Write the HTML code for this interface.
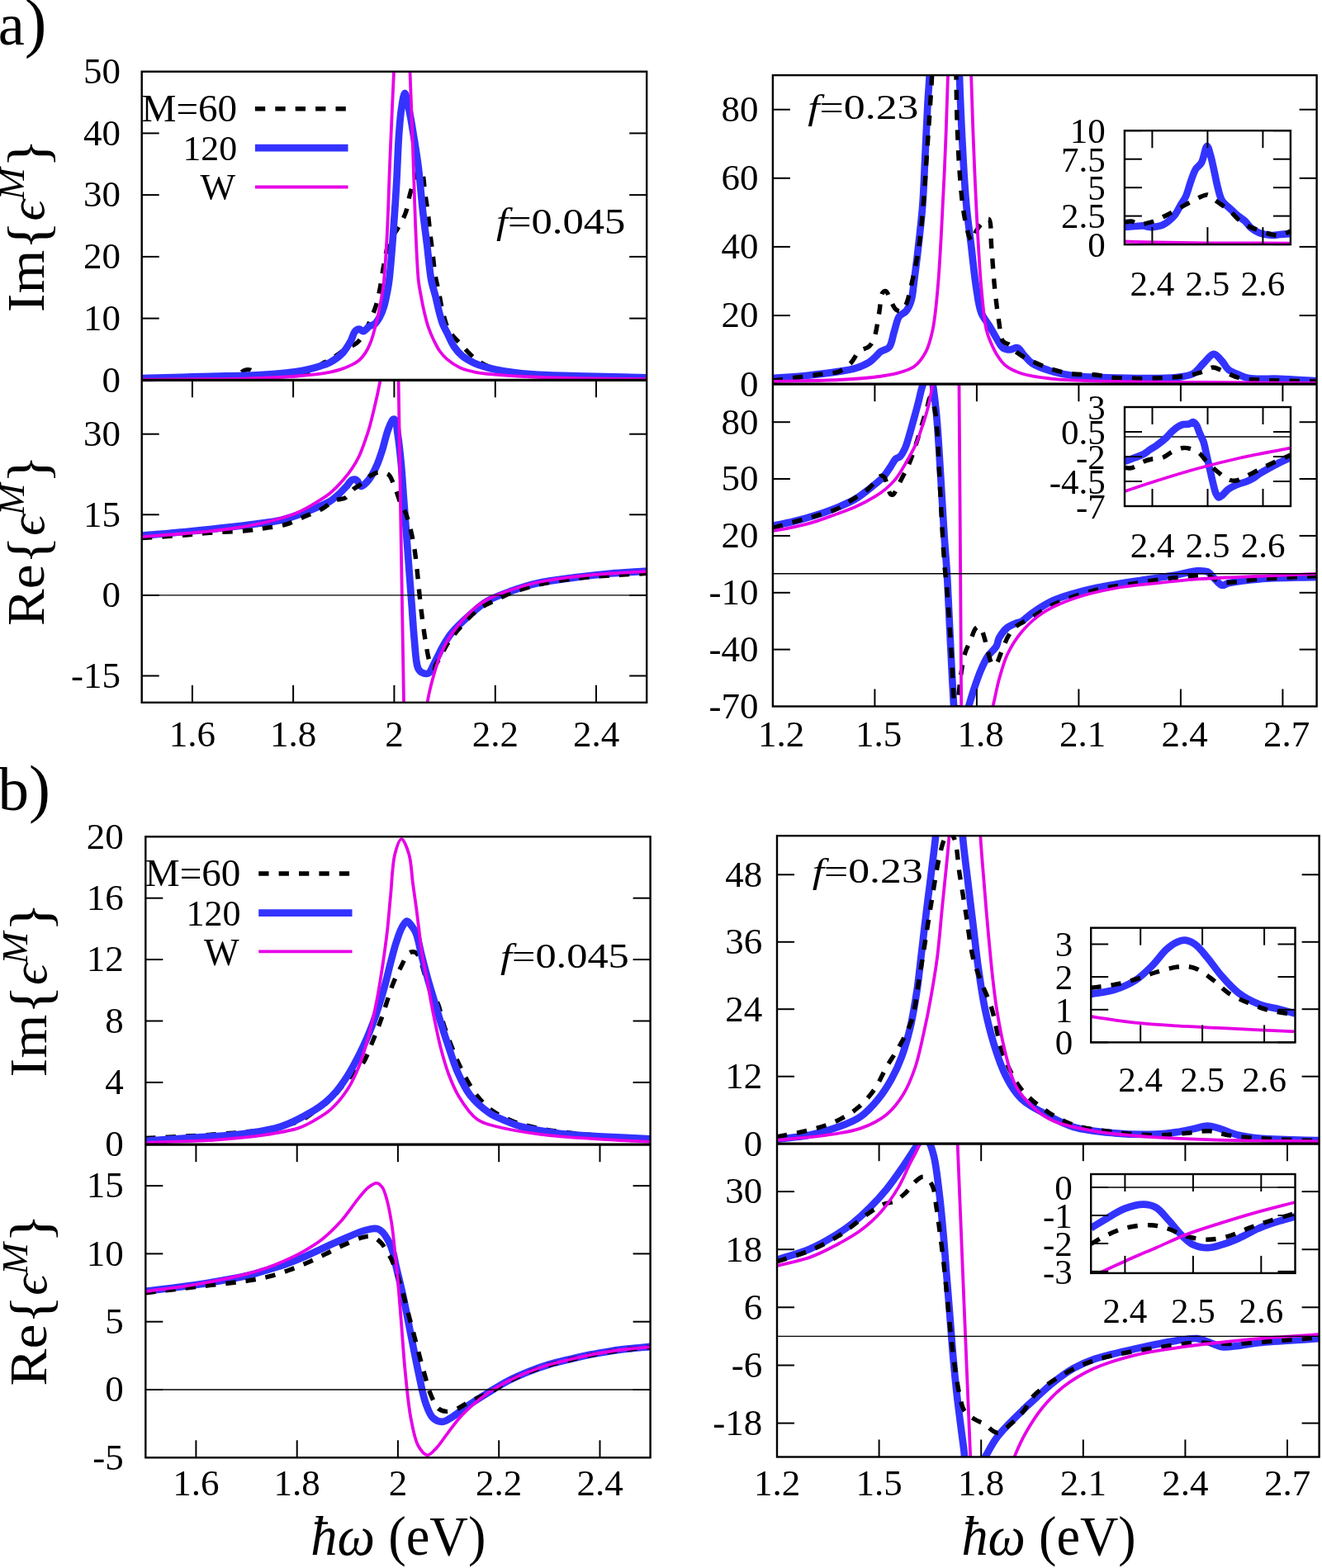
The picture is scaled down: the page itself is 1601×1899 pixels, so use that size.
<!DOCTYPE html>
<html><head><meta charset="utf-8"><title>Dielectric function spectra</title>
<style>html,body{margin:0;padding:0;background:#fff;}svg{display:block;}</style>
</head><body>
<svg width="1601" height="1899" viewBox="0 0 1601 1899" font-family="'Liberation Serif', 'DejaVu Serif', serif">
<defs><clipPath id="c1"><rect x="171.7" y="460.3" width="611.5" height="390.5"/></clipPath><clipPath id="c2"><rect x="935.9" y="465.2" width="658.7" height="390.3"/></clipPath><clipPath id="c3"><rect x="176.3" y="1386.2" width="611.3" height="379.1"/></clipPath><clipPath id="c4"><rect x="941" y="1385.2" width="656.6" height="379.3"/></clipPath><clipPath id="c5"><rect x="171.7" y="86.7" width="611.5" height="378.1"/></clipPath><clipPath id="c6"><rect x="935.9" y="91.1" width="658.7" height="378.6"/></clipPath><clipPath id="c7"><rect x="176.3" y="1013.3" width="611.3" height="377.4"/></clipPath><clipPath id="c8"><rect x="941" y="1012.2" width="656.6" height="377.5"/></clipPath><clipPath id="c9"><rect x="1361.9" y="158.2" width="201" height="137.9"/></clipPath><clipPath id="c10"><rect x="1362" y="493" width="201" height="120"/></clipPath><clipPath id="c11"><rect x="1321.2" y="1123.7" width="247.3" height="138.7"/></clipPath><clipPath id="c12"><rect x="1321.2" y="1422" width="247.3" height="119.9"/></clipPath></defs>
<rect width="1601" height="1899" fill="#fff"/>
<g clip-path="url(#c1)" fill="none" stroke-linejoin="round">
<path d="M172 648.5C189.7 647 207.3 645.7 225 644C242.8 642.3 263.1 640.2 278.6 638.4C290.5 637 299.7 635.9 310 634.5C320.1 633.1 330.9 632 340 629.9C347.9 628.1 354.5 625.9 361.6 623.4C368.9 620.9 376.6 617.7 383.2 614.8C389 612.3 394.7 610.1 399.4 607.2C403.5 604.6 406.9 601.6 410.2 598.6C413.3 595.8 416.1 592.8 418.8 589.9C421.5 587.1 423.8 582.5 426.4 581.3C428.2 580.5 430.2 580.5 431.8 581.3C433.9 582.4 435.1 588.5 437.2 588.9C439.1 589.2 441.6 586.4 443.6 584.5C446 582.2 448.1 579.2 450.1 575.9C452.4 572.1 454.6 567.8 456.6 563C459 557.5 461 551.1 463.1 544.6C465.4 537.5 467.1 528.5 469.5 521.9C471.5 516.6 473.9 508.9 476 507.9C476.8 507.5 477.8 507.7 478.5 508.5C480.3 510.4 480.6 518.7 481.6 525.4C483.1 535.2 484.6 549 485.8 561.6C487.1 575.2 487.9 590.1 489 604.3C490.1 618.5 491.1 632.7 492.2 646.9C493.3 661.1 494.3 675.3 495.4 689.5C496.5 703.7 497.5 718 498.6 732.2C499.7 746.4 500.5 761.4 501.8 774.8C503 786.8 503.4 802.6 506.1 808.9C507.3 811.7 508.4 813.2 510.4 814.3C512.6 815.5 516.5 816.5 518.9 815.3C521.7 813.9 523 808.9 525.3 804.7C528.5 798.9 532.3 789.9 536 783.4C539.4 777.5 541.9 772.7 546.6 767C552.8 759.4 563.4 749.7 571.2 742.8C577.7 737.1 582.8 732.3 590 728C598.2 723.2 608.3 719.7 618.1 716.2C628.3 712.5 638.3 709.2 650 706.5C663.9 703.3 681 701.4 696.2 699.4C711 697.4 725.4 695.8 740 694.5C754.4 693.2 768.8 692.6 783.2 691.6" stroke="#3333ff" stroke-width="8.7"/>
<path d="M172 651.5C189.7 650.3 209.5 649.2 225 648C237.1 647 245.8 645.9 257.3 645C270.5 644 288.1 643.7 299.9 642.5C308.3 641.7 314 640.7 321.3 639.5C329.1 638.3 337.5 637.6 345.4 635.3C353.5 633 361.4 628.9 369.1 625.6C376.5 622.4 384.4 619.4 390.7 615.8C396.1 612.8 400.9 607.8 405 606C407.7 604.8 410 605 412.3 604.5C414.3 604 416 604.2 418 603C421.2 601.1 425.3 594.8 428.5 592.1C430.8 590.2 432.5 589.7 435 587.8C438.9 584.9 444.7 578.6 449 575.9C452.2 573.9 455.1 572.5 458 572C460.5 571.6 463 572.2 465.2 572.7C467.2 573.2 468.9 573.3 470.6 574.8C473.5 577.4 475.9 584.5 478.2 589.9C480.7 595.7 482.4 602.9 484.8 608.5C486.8 613.2 489.3 616.6 491.2 621.3C493.3 626.5 494.9 632.1 496.5 638.4C498.5 646 500.4 655.4 501.8 664C503.2 672.5 504 680.5 505 689.5C506.1 699.6 507.1 711.2 508.2 721.5C509.2 731.1 510.2 739.8 511.4 749.2C512.7 759 514.1 770 515.7 779.1C517 786.8 518.2 795 520 800.4C521.2 804 522.5 808.9 524.2 809C526.2 809.2 529.1 802.5 531.7 798.3C535.1 792.9 538.2 785.3 542.3 779.1C546.6 772.5 551.6 766.3 557.3 759.9C563.6 752.8 571.1 744.2 578.6 738.6C585.4 733.5 593.1 730.5 600 727C606.2 723.9 611.1 721.3 618.1 718.6C627.1 715.1 638.3 711.3 650 708.5C663.9 705.1 681 702.5 696.2 700.6C711 698.7 725.4 698 740 697C754.4 696 768.8 695.3 783.2 694.4" stroke="#000" stroke-width="5.4" stroke-dasharray="12.3 12.1"/>
<path d="M172 650.1C189.7 648.7 207.3 647.6 225 646C242.8 644.4 263.1 642.6 278.6 640.5C290.5 638.9 299.7 637.2 310 635C320.1 632.9 330.9 630.4 340 627.7C347.9 625.4 354.5 623.3 361.6 620.2C368.9 616.9 376.6 612.3 383.2 608.3C389.1 604.7 394.2 601.8 399.4 597.5C405 592.9 410.9 586.7 415.6 581.3C419.7 576.6 423.2 572.2 426.4 567.3C429.6 562.5 432.4 557.7 435 552.2C437.8 546.2 440.3 539 442.5 532.7C444.6 526.8 446.4 521.2 448 515.4C449.6 509.7 450.9 504 452.3 498.2C453.8 492.2 455.2 485.9 456.6 479.8C457.9 473.7 459.3 466.9 460.4 461.5C461.2 457.2 461.8 453.8 462.5 450" stroke="#e600e6" stroke-width="3.8"/>
<path d="M482.4 450C482.5 453.8 482.5 454.9 482.6 461.4C483.2 499.3 488.2 813 489 849.5C489.1 855.5 489.2 856.5 489.3 860" stroke="#e600e6" stroke-width="3.8"/>
<path d="M517 860C517.3 856.5 517.1 853.9 517.8 849.5C519 841.7 522.5 827.5 525.3 817.5C527.9 808.4 530.2 800.1 533.8 791.9C537.3 783.7 541.1 776.3 546.6 768.4C553.1 759 563.1 747.1 571.2 739.6C577.5 733.8 582.8 730 590 726C598.2 721.5 608.3 718.1 618.1 714.7C628.3 711.2 638.3 708.1 650 705.5C663.9 702.4 681 700.1 696.2 698.3C711 696.5 725.4 695.6 740 694.5C754.4 693.5 768.8 692.8 783.2 692" stroke="#e600e6" stroke-width="3.8"/>
</g>
<g clip-path="url(#c2)" fill="none" stroke-linejoin="round">
<path d="M935.9 636.8C943.9 635.1 951.9 633.7 960 631.8C968.3 629.8 976.7 627.5 985 624.9C993.4 622.3 1001.7 619.5 1010 616.2C1018.4 612.8 1028.3 608.7 1035 604.9C1040 602 1043.3 599.3 1047.4 596.2C1051.6 593 1056.1 589.5 1060 586.2C1063.5 583.2 1066.9 580.8 1069.9 577.4C1073.2 573.8 1076 568.8 1078.7 564.9C1081 561.6 1082.7 557.5 1084.9 555.5C1086.5 554.1 1088.3 554.5 1089.9 553C1092.2 550.9 1094.4 546.4 1096.2 542.5C1098.2 538 1099.4 533 1101.1 527.5C1103.1 520.8 1105.4 512.2 1107.4 505C1109.2 498.5 1110.9 492.2 1112.4 486.2C1113.8 480.7 1115 474.5 1116.2 470.5C1116.9 467.9 1117.7 466.5 1118.3 464.2C1119 461.4 1119.4 458.1 1120 455" stroke="#3333ff" stroke-width="8.7"/>
<path d="M1128 455C1128.6 458.8 1129.2 461.5 1129.9 466.3C1131.1 474.9 1132.9 489.7 1134.1 502.1C1135.4 515.6 1136.2 529.5 1137.2 544.3C1138.3 560.9 1139.3 579.4 1140.4 596.9C1141.5 614.5 1142.5 633 1143.6 649.6C1144.6 664.4 1145.7 676.2 1146.7 691.7C1147.9 710.6 1148.8 733.8 1149.9 754.9C1150.9 776 1152 799.7 1153 818.1C1153.7 832.3 1154.7 847.4 1155.1 856C1155.3 860.4 1155.4 862.7 1155.5 866" stroke="#3333ff" stroke-width="8.7"/>
<path d="M1170 866C1171 862.7 1171.8 859.9 1173 856C1174.7 850.3 1177 842.1 1179.4 835C1181.9 827.4 1184.8 818.8 1187.8 811.8C1190.4 805.7 1192.9 800 1196.2 795C1199.3 790.3 1204.5 786.5 1206.8 782.3C1208.6 779 1208.2 775.8 1210 772.5C1212.2 768.4 1216.3 763 1220 760C1223.1 757.5 1226.9 756.3 1230 755C1232.6 753.9 1234.8 754 1237.5 752.5C1241.3 750.4 1245 746 1250 742.5C1256.8 737.8 1266.5 731.5 1275 727.5C1283.1 723.7 1291.6 721.3 1300 718.8C1308.3 716.3 1315.2 714.6 1325 712.5C1338.8 709.6 1358.3 706.5 1375 703.8C1391.7 701.1 1411.2 698.7 1425 696.3C1434.8 694.6 1443.1 691.7 1450 691.3C1454.9 691.1 1459.1 690.9 1462.5 692.5C1465.6 694 1467.3 697.4 1470 700C1473.1 702.9 1476.7 708.1 1480 708.8C1482.5 709.3 1484 707.1 1487.5 706.3C1495.2 704.5 1510.5 702.5 1525 701.3C1544.6 699.6 1571.4 699.6 1594.6 698.8" stroke="#3333ff" stroke-width="8.7"/>
<path d="M935.9 639.3C945.6 636.6 955.9 633.7 965 631.2C973 629 979.9 627.2 987.5 624.9C995.3 622.6 1003.7 620.7 1011.2 617.4C1018.7 614.1 1025.6 609.2 1032.4 604.9C1038.9 600.8 1046 596.8 1051.2 592.4C1055.5 588.7 1059 583.9 1062 581C1064.1 579 1065.7 576.4 1067.4 576.2C1068.7 576 1070 576.8 1071 578C1072.8 580.1 1073.6 586.3 1075 590C1076.2 593.2 1077.2 597.6 1078.7 598.7C1079.5 599.3 1080.5 599.5 1081.5 599C1084 597.7 1087 589.3 1089.9 583.7C1093.4 577 1097.8 569 1101.1 561.2C1104.5 553.2 1107.2 544.6 1109.9 536.2C1112.6 527.9 1115.1 518.6 1117.4 511.2C1119.2 505.2 1120.8 500.2 1122.4 495C1123.9 490.2 1125.1 481.1 1126.7 481.1C1128.3 481.1 1130.7 490.1 1132 495.8C1133.8 503.4 1134.3 513.1 1135.1 523.2C1136.1 535.7 1136.4 549.8 1137.2 565.3C1138.2 584.2 1139.3 608.4 1140.4 628.5C1141.4 646.9 1142.4 665.9 1143.6 681.2C1144.5 693.1 1145.7 701.5 1146.7 712.8C1147.8 725.8 1148.9 740.1 1149.9 754.9C1151 771.5 1152.1 791 1153 807.6C1153.8 822.4 1154.5 838.9 1155.1 849.7C1155.5 856.4 1155.7 860.6 1156 866" stroke="#000" stroke-width="5.4" stroke-dasharray="12.3 12.1"/>
<path d="M1159.5 866C1159.8 860.6 1159.9 856 1160.4 849.7C1161.1 840.9 1162.1 828.2 1163.6 818.1C1165 808.6 1166.5 798.3 1168.8 790.7C1170.6 784.9 1173.1 780.9 1175.2 776C1177.3 771.1 1178.9 763.8 1181.5 761.2C1183.1 759.7 1185.2 758.5 1186.7 759.1C1189 760.1 1190.5 767.2 1192 771.8C1193.7 776.9 1194.5 783 1196.2 788.6C1198 794.3 1199.9 804.5 1202.5 805.5C1203.8 806 1205.5 804.8 1206.8 803.4C1209.2 800.8 1210.8 793.8 1213.1 788.6C1215.7 782.7 1218.3 774.9 1221.5 769.7C1224.1 765.5 1226.1 762.4 1229.9 759.1C1234.9 754.8 1243 751.6 1250 747.5C1257.9 742.9 1264.9 737.2 1275 732.5C1288.5 726.1 1308.2 719.4 1325 715C1341.5 710.7 1358.3 708.9 1375 706.3C1391.6 703.7 1409.5 701 1425 699.5C1438.4 698.2 1452.5 695.7 1462.5 697.5C1469.6 698.8 1472.6 703.8 1480 705C1491.4 706.8 1508.4 702.4 1525 701.3C1545.7 699.9 1571.4 698.8 1594.6 697.5" stroke="#000" stroke-width="5.4" stroke-dasharray="12.3 12.1"/>
<path d="M935.9 643C943.9 641.5 951.9 640.3 960 638.6C968.3 636.8 976.7 634.9 985 632.4C993.4 629.9 1001.7 626.7 1010 623.7C1018.4 620.7 1026.8 618 1035 614.3C1043.5 610.5 1053.2 605.4 1060 601.2C1065 598.2 1068.4 595.8 1072.4 592.4C1076.7 588.8 1081 584.8 1084.9 579.9C1089.4 574.2 1093.4 567 1097.4 560C1101.7 552.5 1106.7 543.6 1109.9 536.2C1112.6 530 1114.1 524.7 1116.1 518.7C1118.2 512.3 1120.7 504.9 1122.4 498.7C1123.9 493.4 1125 488.8 1126.1 483.7C1127.2 478.5 1128.2 473 1129 468C1129.8 463.5 1130.3 459.3 1131 455" stroke="#e600e6" stroke-width="3.8"/>
<path d="M1161.3 455C1161.4 458.8 1161.4 459.9 1161.5 466.3C1162 504.1 1163.9 820.1 1164.2 856C1164.2 861.7 1164.3 862.7 1164.3 866" stroke="#e600e6" stroke-width="3.8"/>
<path d="M1199 866C1200.2 862.3 1201.2 859.7 1202.5 855C1204.7 847.1 1207 833 1210 822.5C1212.9 812.2 1215.5 802 1220 792.5C1224.6 782.8 1230.5 773.3 1237.5 765C1244.6 756.6 1252.8 748.9 1262.5 742.5C1273.3 735.4 1286.3 729.8 1300 725C1315.2 719.6 1333.2 715.6 1350 712.5C1366.6 709.4 1383.3 708.2 1400 706.3C1416.7 704.4 1433.3 702.6 1450 701.3C1466.7 700.1 1480.7 699.7 1500 698.8C1526.5 697.6 1563.1 696.3 1594.6 695" stroke="#e600e6" stroke-width="3.8"/>
</g>
<g clip-path="url(#c3)" fill="none" stroke-linejoin="round">
<path d="M176.3 1563.8C196.7 1561.2 217.1 1559.1 237.6 1556C258.3 1552.8 284.5 1548.4 300 1544.8C309.4 1542.6 315 1540.5 322.5 1538.3C330 1536 337.5 1533.9 345 1531.3C352.5 1528.7 360 1525.7 367.5 1522.5C375 1519.3 382.5 1515.6 390 1512.2C397.5 1508.8 404.9 1505.4 412.4 1502.1C419.9 1498.8 427.9 1494.9 434.9 1492.5C440.9 1490.4 447.5 1488.4 451.8 1488C454.3 1487.8 456.1 1487.8 458 1488.5C459.9 1489.2 461.3 1490.3 463 1492C465.6 1494.6 468.7 1499.6 470.9 1503.8C473.1 1508 474.6 1512.3 476 1517C477.5 1522 478 1526.5 479.5 1532.9C481.8 1542.9 485.6 1557.8 488.5 1571.1C491.6 1585.5 494.5 1601.1 497.5 1616.1C500.5 1631.1 503.4 1646.7 506.5 1661.1C509.4 1674.4 511.8 1689.1 515.5 1699.3C518.1 1706.6 520.4 1713.6 524.4 1717.3C527.5 1720.2 531.8 1722 535.7 1721.8C540 1721.6 544.7 1717.9 549.2 1715.1C554.4 1712 559 1707.7 564.9 1703.6C572.2 1698.6 581.6 1692.6 590 1687.4C598.3 1682.3 606.5 1676.9 615 1672.5C623.2 1668.2 631.6 1664.6 640 1661.2C648.3 1657.9 656.6 1655 665 1652.5C673.3 1650 681.7 1648.2 690 1646.2C698.3 1644.2 706.6 1642.3 715 1640.6C723.3 1638.9 731.7 1637.5 740 1636.2C748.3 1635 756.9 1634 765 1633.1C772.7 1632.2 780.1 1631.6 787.6 1630.8" stroke="#3333ff" stroke-width="8.7"/>
<path d="M176.3 1565.7C196.7 1563.3 216.7 1561 237.6 1558.5C259.4 1555.9 288.2 1553.1 304.5 1550.4C314 1548.8 319.5 1547.7 327 1545.7C334.7 1543.7 342.4 1541.1 350 1538.3C357.6 1535.5 365.1 1532.4 372.5 1529.1C379.8 1525.9 386.7 1522.4 393.9 1518.9C401.3 1515.3 408.8 1511.1 416.4 1507.7C423.8 1504.4 432.6 1500.3 438.9 1498.7C443.2 1497.6 446.4 1496.6 450 1497.5C453.9 1498.4 458.2 1501.9 461.3 1504.9C464.2 1507.7 466 1511.5 468.2 1514.9C470.4 1518.4 472.7 1522.4 474.3 1525.7C475.6 1528.3 476 1529.7 477.2 1532.9C479.4 1539 483.3 1550.4 486.2 1559.9C489.4 1570.5 492.2 1582.4 495.2 1593.6C498.2 1604.9 501.2 1616.1 504.2 1627.4C507.2 1638.6 510.1 1650.3 513.2 1661.1C516.1 1671.2 518.7 1682.2 522.2 1690.3C524.9 1696.5 527.5 1703 531.2 1706.1C533.9 1708.3 536.9 1709.2 540.2 1709.4C544.2 1709.6 549.2 1707.9 553.7 1706.1C558.9 1704 563.7 1699.8 569.4 1697C575.7 1693.8 582.9 1691.8 590 1688.2C598.1 1684.1 606.5 1677.7 615 1673.3C623.2 1669 631.6 1665.4 640 1662C648.3 1658.7 656.6 1655.8 665 1653.3C673.3 1650.8 681.7 1649 690 1647C698.3 1645 706.6 1643.1 715 1641.4C723.3 1639.7 731.7 1638.3 740 1637C748.3 1635.8 756.9 1634.8 765 1633.9C772.7 1633 780.1 1632.4 787.6 1631.6" stroke="#000" stroke-width="5.4" stroke-dasharray="12.3 12.1"/>
<path d="M176.3 1564.2C196.7 1561.3 217.1 1559.1 237.6 1555.5C258.4 1551.9 284.5 1546.5 300 1542.6C309.4 1540.2 315.1 1538.4 322.5 1535.8C330.1 1533.2 337.6 1530.1 345 1526.8C352.6 1523.4 360.1 1519.8 367.5 1515.6C375.1 1511.2 382.8 1506.7 390 1501C397.8 1494.9 405.2 1487.6 412.4 1479.6C420.2 1470.9 428.5 1458 434.9 1450.4C439.2 1445.3 442.3 1441 446.2 1438C449.4 1435.5 453.4 1432.6 456.3 1432.9C458.8 1433.1 461.1 1435.5 463 1438C465.6 1441.6 467 1447.6 468.7 1453.7C470.9 1461.6 472.7 1471.6 474.3 1481.8C476.2 1493.8 477.5 1509.2 478.8 1521.2C479.9 1531.2 480.7 1537.9 481.7 1548.7C483.1 1564.1 484.7 1586.2 486.2 1604.9C487.7 1623.6 488.8 1642.4 490.7 1661.1C492.6 1679.9 494.4 1701 497.5 1717.3C500 1730.1 502 1743.1 506.5 1751C509.5 1756.3 513.9 1762.1 517.7 1762.3C521.3 1762.5 525.2 1757.1 528.9 1753.3C533.5 1748.5 537.5 1741.6 542.4 1735.3C547.9 1728.2 553.2 1720.2 560.4 1712.8C568.7 1704.3 580.3 1694.7 590 1687.7C598.4 1681.7 606.5 1677.2 615 1672.8C623.2 1668.5 631.6 1664.9 640 1661.5C648.3 1658.2 656.6 1655.3 665 1652.8C673.3 1650.3 681.7 1648.5 690 1646.5C698.3 1644.5 706.6 1642.6 715 1640.9C723.3 1639.2 731.7 1637.8 740 1636.5C748.3 1635.3 756.9 1634.3 765 1633.4C772.7 1632.5 780.1 1631.9 787.6 1631.1" stroke="#e600e6" stroke-width="3.8"/>
</g>
<g clip-path="url(#c4)" fill="none" stroke-linejoin="round">
<path d="M941 1525.7C954.4 1521.3 968.8 1517.7 981.1 1512.4C992.3 1507.6 1002.8 1501.5 1011.9 1495.9C1019.6 1491.2 1025.7 1486.9 1032.4 1481.6C1039.4 1476 1046.2 1469.8 1052.9 1463.1C1059.9 1456.1 1066.9 1448.6 1073.5 1440.5C1080.6 1431.8 1087.9 1421.2 1094 1412.3C1099.3 1404.6 1105.1 1395.4 1108.4 1390.3C1110.2 1387.6 1110.9 1386.1 1112.5 1384.1C1114.1 1382 1116 1378.2 1118 1378C1120.1 1377.8 1122.9 1380.4 1124.8 1383C1127.6 1386.8 1129.2 1393.3 1131 1400.5C1133.7 1411.2 1135.3 1427.1 1137.1 1441.6C1139.1 1457.7 1140.8 1475.8 1142.3 1492.9C1143.9 1510 1145 1527.2 1146.4 1544.3C1147.8 1561.4 1149.1 1578.5 1150.5 1595.6C1151.9 1612.7 1153.1 1630.8 1154.6 1646.9C1155.9 1661.4 1157.2 1674.3 1158.7 1688C1160.2 1701.7 1162.2 1716.2 1163.8 1729.1C1165.2 1740.6 1167.2 1753.4 1167.9 1761.9C1168.4 1767.2 1168.3 1770.6 1168.5 1775" stroke="#3333ff" stroke-width="8.7"/>
<path d="M1188 1775C1190.2 1770.6 1192 1766.7 1194.6 1761.9C1198 1755.8 1202.3 1747.7 1206.9 1741.4C1211.3 1735.4 1216.1 1730.5 1221.3 1725C1227 1718.9 1234.7 1711.6 1240 1706.5C1243.8 1702.9 1245.9 1701 1250 1697.3C1256.4 1691.4 1266.5 1681.6 1275 1674.8C1283.1 1668.3 1291.4 1662.2 1299.9 1657.3C1308 1652.7 1315 1649.5 1324.9 1646.1C1338.5 1641.4 1358.2 1637.4 1374.9 1633.6C1391.5 1629.9 1411.1 1625.7 1424.9 1623.6C1434.6 1622.1 1443 1620.5 1449.8 1621.1C1454.7 1621.6 1457.8 1623.3 1462.3 1624.8C1467.7 1626.6 1473.7 1630.2 1479.8 1631.1C1486.2 1632 1492.8 1630.5 1499.8 1629.8C1507.7 1629 1514.3 1627.2 1524.8 1626.1C1542.7 1624.2 1573.3 1622.8 1597.6 1621.1" stroke="#3333ff" stroke-width="8.7"/>
<path d="M941 1527.8C954.4 1523.3 968.8 1519.5 981.1 1514.4C992.2 1509.8 1002.9 1504.4 1011.9 1499C1019.6 1494.4 1025.5 1489.7 1032.4 1484.6C1039.8 1479.2 1047.9 1471.9 1055 1467.2C1060.8 1463.4 1066.2 1460.1 1071.4 1458C1075.7 1456.3 1079.8 1456.8 1083.7 1454.9C1088.1 1452.8 1092 1449 1096.1 1445.2C1100.9 1440.7 1106 1432.7 1110.4 1429.3C1113.3 1427.1 1115.9 1424.8 1118.6 1425.2C1122 1425.7 1126.4 1430.7 1128.9 1435.4C1132.3 1441.8 1132.5 1452.9 1134 1462.1C1135.6 1472 1136.8 1481.9 1138.2 1492.9C1139.9 1505.6 1141.8 1520.3 1143.3 1534C1144.8 1547.7 1146 1561.4 1147.4 1575.1C1148.8 1588.8 1150 1602.4 1151.5 1616.1C1153 1629.8 1154.7 1644.5 1156.6 1657.2C1158.2 1668.2 1159.7 1678.8 1161.8 1688C1163.6 1695.6 1164.4 1703.2 1167.9 1708.5C1170.9 1713.1 1175.9 1716 1180.2 1718.8C1184.2 1721.4 1188.8 1722.6 1192.6 1725C1196.3 1727.4 1199.7 1731.5 1202.8 1733.2C1205 1734.4 1206.7 1735.5 1209 1735.2C1212.5 1734.7 1217 1730.5 1221.3 1727C1227.1 1722.3 1235 1714.8 1240 1708.5C1244.2 1703.2 1245.3 1697.6 1250 1692.3C1256.1 1685.4 1265.5 1678.6 1275 1672.3C1285.9 1665.1 1299.7 1657.5 1312.4 1652.3C1324.6 1647.3 1336.4 1644.3 1349.9 1641.1C1365.3 1637.5 1383.2 1634.8 1399.9 1632.3C1416.5 1629.8 1436 1626.6 1449.8 1626.1C1459.5 1625.7 1466.5 1627.1 1474.8 1627.3C1483.1 1627.5 1490 1627.7 1499.8 1627.3C1513.6 1626.8 1533.3 1624.8 1549.8 1623.6C1565.9 1622.4 1581.7 1621.1 1597.6 1619.9" stroke="#000" stroke-width="5.4" stroke-dasharray="12.3 12.1"/>
<path d="M941 1532.9C954.4 1529.5 968.8 1527 981.1 1522.6C992.2 1518.6 1001.8 1513.7 1011.9 1508.3C1022.3 1502.8 1033.3 1496.8 1042.7 1489.8C1051.7 1483 1059.9 1475.6 1067.3 1467.2C1074.9 1458.5 1081.9 1448.3 1087.8 1438.4C1093.5 1428.8 1097.8 1417.7 1102.2 1408.7C1105.9 1401.2 1110.4 1394.4 1112.5 1388.2C1114.1 1383.4 1114.2 1379.4 1115 1375" stroke="#e600e6" stroke-width="3.8"/>
<path d="M1159.6 1375C1159.6 1378.7 1159.5 1379.8 1159.7 1386.2C1160.6 1423.1 1173.8 1722.5 1175.1 1761.9C1175.3 1769.3 1175.3 1770.6 1175.4 1775" stroke="#e600e6" stroke-width="3.8"/>
<path d="M1225 1775C1226.5 1770.6 1227.4 1767 1229.5 1761.9C1232.6 1754.4 1237.3 1743.9 1242.5 1734.8C1248.2 1724.9 1255 1714 1262.5 1704.8C1270 1695.7 1277.7 1687.4 1287.4 1679.8C1298.2 1671.4 1311.1 1663.6 1324.9 1657.3C1340 1650.4 1358.1 1645.3 1374.9 1641.1C1391.4 1637 1408.2 1634.8 1424.9 1632.3C1441.5 1629.8 1458.1 1628 1474.8 1626.1C1491.4 1624.2 1506.6 1622.6 1524.8 1621.1C1546.8 1619.2 1573.3 1617.8 1597.6 1616.1" stroke="#e600e6" stroke-width="3.8"/>
</g>
<g clip-path="url(#c5)" fill="none" stroke-linejoin="round">
<path d="M171.7 458.5C191.1 458 212.4 457.4 230 457C244.6 456.6 259.3 456.7 270 456C277.2 455.5 283.4 455.7 288 454C291.4 452.7 293.3 449.4 296 448.5C298.3 447.7 300.8 447.4 303 448C305.5 448.7 306.9 452 310 453C314.8 454.6 323 453.8 330 453.5C337.9 453.2 347.7 451 355 451C360.6 451 365.6 453 370 452.5C373.7 452.1 376.8 450.8 380 449C383.5 447 386.5 442.7 390 440.5C393.2 438.5 396.8 437.9 400 436C403.4 434 406.6 431 410 428.7C413.3 426.4 416.4 424.2 420 422C423.9 419.6 429.1 418 432.5 415C435.7 412.2 437.7 408.8 440 405C442.7 400.6 445.1 395.3 447.5 390C450.1 384.1 452.9 377.7 455 371.2C457.1 364.4 458.5 357.7 460 350C461.8 340.9 463 330 465 320C467 310 468.6 297.3 472 290C474.2 285.2 477.4 283.5 480.1 279.2C483.7 273.5 488.2 265.8 491 258.4C493.8 250.9 494.6 241.9 496.7 234.4C498.6 227.5 500.8 220.3 503 215C504.6 211 506.3 205.2 508 205C509.1 204.8 510.3 206.5 511.2 208.4C513.3 212.8 513.5 225.4 514.7 233.7C515.8 241.7 517.2 249.2 518.2 257.1C519.2 265 519.8 273 520.7 281.1C521.7 289.6 523 298.4 524 307C525.1 315.7 525.7 325 527 333C528.2 340 529.8 345.6 531.2 352.5C532.8 360.3 534.1 369.5 536.2 377.5C538.3 385.3 539.9 393.3 543.7 400C547.4 406.6 553.4 411.8 558.7 417.5C564.2 423.4 570 430.4 576.1 435C581.4 439 585.7 441.7 592.6 444.2C602.3 447.8 615.5 449.7 630 451.5C649.6 453.9 675.7 454 700 455C726.5 456.1 755.5 456.9 783.2 457.8" stroke="#000" stroke-width="5.4" stroke-dasharray="12.3 12.1"/>
<path d="M171.7 458C181.1 457.8 190.2 457.6 200 457.3C210.5 457 221.7 456.7 232.5 456.4C243.3 456.1 254.4 455.9 265 455.6C275.2 455.4 284.6 455.3 295 454.9C306.2 454.5 319 453.9 330 453C339.7 452.2 349.4 451.4 357.5 450.2C364 449.3 369.6 448.3 375 447C379.8 445.9 384.3 444.5 388.6 443.1C392.6 441.8 396.1 440.9 400 438.7C404.8 436 410.8 431.8 415 427.4C419.1 423.1 422.4 417.2 425 412.5C427.2 408.6 427.8 403.5 430 401.2C431.4 399.7 433.3 398.7 435 398.7C436.7 398.7 438.2 401.4 440 401.2C442.3 400.9 445 396.5 447.5 395C449.6 393.8 451.8 394 453.7 392.5C456.1 390.6 458.2 387 460 383.7C462 380 463.6 375.7 465 371.2C466.6 366.2 467.7 360.3 468.7 355C469.7 349.9 470.4 346.6 471.2 340C472.8 327.5 474.6 304.1 476 285.3C477.5 265.4 478.9 244.2 480.1 223.7C481.3 203.2 481.9 179.1 483.2 162.1C484.1 150.1 484.8 140.2 486.2 131.3C487.3 124.3 488.8 112.9 490.3 112.9C491.9 112.9 493.9 126 495.5 133.4C497.4 142.1 498.9 151.7 500.6 162.1C502.6 174.6 505 188.7 506.8 203.2C508.8 219.3 510.1 238.4 511.9 254.5C513.5 269 515.3 281.6 517 295.6C518.8 310.1 520.2 328.4 522.4 340C523.9 347.6 525.8 352.3 527.4 358.7C529.1 365.6 530.7 373.9 532.4 380C533.7 384.7 534.7 388.6 536.2 392.5C537.6 396.1 539.3 398.7 541.2 402.5C543.7 407.5 546.6 415 550 420C553 424.4 556 428 559.9 431.2C564.2 434.7 569.1 437.4 574.9 439.9C582 443 590.2 445.3 599.9 447.4C612.7 450.1 629.6 452.1 645.3 453.4C662.2 454.8 678.3 454.7 697.9 455.3C722.9 456.1 754.8 456.7 783.2 457.4" stroke="#3333ff" stroke-width="8.7"/>
<path d="M171.7 459.6C214.5 459.2 265.3 459.3 300 458.3C323.8 457.6 342 457 360 455.5C374.7 454.3 390.5 452.4 400 450.6C405.4 449.6 408.4 448.7 412.5 447.4C416.7 446 421.1 444.3 425 442.4C428.6 440.6 432.1 438.7 435 436.2C437.9 433.7 440.3 430.7 442.5 427.4C444.9 423.7 446.9 419.5 448.7 415C450.7 410 452.2 404 453.7 398.7C455.1 393.6 456.3 389 457.5 383.7C458.8 377.8 460.1 371.3 461.2 365C462.3 358.8 463.3 354.3 464.3 346.2C466 331.7 467.5 307.3 468.7 285.3C470.1 259.5 470.9 227.9 472 201C473 176.3 474.1 150.8 475 130C475.7 113.8 476.5 99.4 477 86.7C477.4 76.7 477.7 68.9 478 60" stroke="#e600e6" stroke-width="3.8"/>
<path d="M495.5 60C495.8 68.9 496.1 75.1 496.5 86.7C497.3 108.4 498.9 149.2 500 180C501.1 210.3 501.8 241.9 503 270C504.1 294.8 505.1 324.1 506.8 340C507.7 348.3 508.8 352.5 509.9 358.7C511.1 365 512.2 371.3 513.7 377.5C515.2 383.8 516.7 390.4 518.7 396.2C520.5 401.5 522.6 406.4 524.9 411.2C527.2 416 529.5 420.9 532.4 425C535 428.7 537.6 431.8 541.2 434.9C545.4 438.5 550.7 442.3 556.2 444.9C561.9 447.6 568.1 449.2 574.9 450.6C582.6 452.2 590.3 452.8 599.9 453.7C612.8 454.9 629.5 455.8 645.3 456.5C662.7 457.3 679.9 457.8 700 458.2C724.8 458.7 755.5 458.9 783.2 459.2" stroke="#e600e6" stroke-width="3.8"/>
</g>
<g clip-path="url(#c6)" fill="none" stroke-linejoin="round">
<path d="M935.9 458C949.1 457 962.2 456.3 975.5 455C989 453.6 1004.9 451.7 1016.1 449.9C1024.1 448.6 1030.1 447.8 1036.4 445.8C1042.2 444 1048.3 441.4 1052.6 438.7C1056 436.6 1058.2 433.9 1060.7 431.6C1062.9 429.5 1064.4 427.4 1066.8 425.6C1069.6 423.6 1074.3 423.5 1076.9 420.5C1080.3 416.4 1080.9 407.5 1083 401.2C1085 395 1086.1 387.2 1089.1 383C1091.3 380 1094.9 379.6 1097.2 376.9C1099.8 373.8 1101.7 369.7 1103.3 364.7C1105.5 357.7 1105.9 348.6 1107.3 338.4C1109.2 324.3 1111.7 303.7 1113.4 287.7C1115 273.5 1116.3 262.1 1117.4 247.2C1118.8 229 1119.5 206.7 1120.5 186.4C1121.5 166.1 1122.5 142.6 1123.5 125.5C1124.2 113 1125 104 1125.6 93.1C1126.2 82.1 1126.5 71 1127 60" stroke="#3333ff" stroke-width="8.7"/>
<path d="M1161 60C1161.3 71 1161.5 79.9 1162 93.1C1162.7 112.7 1163.8 141.1 1165.1 166.1C1166.5 192.4 1168 223.4 1170.2 247.2C1171.9 266.1 1174.2 281 1176.2 297.9C1178.2 314.8 1179.9 333.8 1182.3 348.5C1184.1 360 1185.1 370.6 1188.4 378.9C1191 385.4 1195.4 389.9 1198.5 395.2C1201.4 400 1203.8 404.8 1206.6 409.3C1209.2 413.6 1211.5 419.2 1214.7 421.5C1217.1 423.2 1220.1 423.5 1222.9 423.5C1226 423.5 1229.7 420.4 1232.5 421.3C1235.5 422.3 1237.3 427.1 1240 430C1243 433.3 1245.5 437.1 1250 440C1256.2 444.1 1266.5 447.5 1275 450C1283.2 452.4 1290.2 453.8 1300 455C1313.8 456.7 1331.6 457.1 1350 457.5C1372.5 458 1408 458.9 1425 457C1433.9 456 1439.5 455.5 1445 452.5C1450.1 449.7 1453.3 444 1457.5 440C1461.6 436.1 1466.1 428.8 1470 428.8C1473.5 428.8 1477.1 434.3 1480 437.5C1482.9 440.6 1484.3 444.8 1487.5 447.5C1490.9 450.3 1495.8 452 1500 453.8C1504.1 455.5 1507.1 457.1 1512.5 458C1521.6 459.6 1537 458.3 1550 458.8C1564.2 459.4 1579.7 460.5 1594.6 461.3" stroke="#3333ff" stroke-width="8.7"/>
<path d="M935.9 461C945.7 459.7 955.5 458.3 965.4 457C975.5 455.6 986.7 454.2 995.8 452.9C1003.3 451.8 1010.2 452.3 1016.1 449.9C1021.6 447.7 1026.2 443.8 1030.3 439.8C1034.3 435.8 1036.4 429 1040.4 425.6C1044 422.6 1049.5 422.4 1052.6 419.5C1055.5 416.8 1057 413.8 1058.7 409.3C1061.5 402 1062.9 388.5 1064.7 378.9C1066.3 370.4 1066.2 358.1 1068.8 354.6C1069.9 353.1 1071.5 352.2 1072.8 352.6C1075 353.3 1076.8 360.9 1078.9 364.7C1080.9 368.3 1082.5 372.9 1085 374.9C1086.8 376.3 1089.3 377.5 1091.1 376.9C1093.4 376.2 1095.4 372.4 1097.2 368.8C1099.9 363.4 1101.3 355 1103.3 346.5C1106 335.4 1109.1 321.8 1111.4 308C1114 292.3 1115.7 275.6 1117.4 257.3C1119.5 235.7 1120.9 209.1 1122.5 186.4C1124 165.3 1125.5 142.6 1126.6 125.5C1127.4 113 1128.1 104 1128.6 93.1C1129.1 82.1 1129.2 71 1129.5 60" stroke="#000" stroke-width="5.4" stroke-dasharray="12.3 12.1"/>
<path d="M1157.5 60C1157.7 71 1157.8 80.8 1158 93.1C1158.3 108.6 1158.4 127.6 1159 145.8C1159.7 165.3 1160.6 187.3 1162 206.6C1163.3 224.3 1164.7 242.6 1167.1 257.3C1169 268.8 1171.8 282.4 1174.2 287.7C1175.2 289.8 1176.2 291.9 1177.2 291.8C1178.8 291.6 1180.1 283.3 1182.3 279.6C1184.5 275.9 1187.5 271.9 1190.4 269.5C1192.7 267.6 1195.8 264.5 1197.5 265.4C1201 267.2 1199.6 285.9 1200.6 297.9C1201.9 312.9 1203 332.6 1204.6 348.5C1206.1 362.8 1207.8 377.3 1209.7 389.1C1211.2 398.3 1211.3 408.9 1214.7 413.4C1216.7 416.1 1219.9 415.6 1222.5 417.5C1225.8 419.9 1228.5 424.4 1232.5 427.5C1237.3 431.2 1243.5 434.4 1250 437.5C1257.5 441.1 1266.6 444.9 1275 447.5C1283.2 450 1291.6 452 1300 453C1308.3 454 1316.7 453.1 1325 453.8C1333.4 454.5 1340.2 456.7 1350 457.5C1363.8 458.6 1384.5 458.5 1400 458C1413.4 457.5 1427 456.7 1437.5 455C1445.3 453.7 1451.8 451.9 1457.5 450C1461.9 448.5 1465 445.2 1468.8 445C1472.5 444.8 1475.8 447.2 1480 448.8C1485.7 451 1492.8 455.6 1500 457.5C1507.7 459.5 1514.6 459.3 1525 460C1542.4 461.1 1571.4 461.3 1594.6 462" stroke="#000" stroke-width="5.4" stroke-dasharray="12.3 12.1"/>
<path d="M935.9 462C962.6 461.3 993.9 461.1 1016.1 460C1031.9 459.2 1044.1 458.5 1056.6 457C1067.5 455.7 1078 454.4 1087 451.9C1094.6 449.8 1101.6 448.1 1107.3 443.8C1113.2 439.4 1117.8 432.6 1121.5 425.6C1125.5 417.9 1127.4 409.5 1129.6 399.2C1132.6 385.1 1134.1 366.2 1135.7 348.5C1137.5 329.2 1138.4 309.4 1139.7 287.7C1141.2 262.6 1142.5 235.9 1143.8 206.6C1145.3 171.9 1147.3 119.6 1147.9 93.1C1148.2 78.8 1148.2 71 1148.3 60" stroke="#e600e6" stroke-width="3.8"/>
<path d="M1175.8 60C1175.9 71 1175.9 78.8 1176.2 93.1C1176.8 119.6 1178.8 171.9 1180.3 206.6C1181.6 235.9 1182.8 262.6 1184.3 287.7C1185.6 309.4 1186.6 329.2 1188.4 348.5C1190.1 366.2 1191.7 387.2 1194.5 399.2C1196.1 406.1 1197.8 409.9 1200 415C1202.2 420.1 1204.5 425.4 1207.5 430C1210.4 434.5 1213.1 439 1217.5 442.5C1222.7 446.7 1229.6 449.9 1237.5 452.5C1247.8 455.9 1261.6 457.3 1275 458.8C1290.4 460.5 1304.6 460.7 1325 461.3C1357.3 462.3 1406.8 462.6 1450 463C1496.4 463.4 1546.4 463.5 1594.6 463.8" stroke="#e600e6" stroke-width="3.8"/>
</g>
<g clip-path="url(#c7)" fill="none" stroke-linejoin="round">
<path d="M176.3 1378.5C203.6 1377 232.8 1375.9 258.1 1374C280.1 1372.3 301.3 1371 319.7 1368C334.9 1365.5 349.9 1362.9 360.8 1358.5C368.7 1355.3 373.5 1351.4 380 1347C387.2 1342.1 395 1336.6 401.9 1330C409.2 1323 415.8 1313.2 422.4 1306C428.1 1299.7 434.2 1295.7 438.8 1288.9C444 1281.2 447.5 1270.4 451.2 1261.5C454.7 1253.1 457.9 1244.8 460.7 1236.9C463.3 1229.8 465.2 1223.5 467.6 1216.3C470.2 1208.5 472.7 1199.4 475.8 1191.7C478.7 1184.5 482 1177.7 485.4 1171.2C488.6 1165.1 491.9 1156.4 495.7 1154C497.9 1152.6 500.8 1152.4 502.8 1153.3C505 1154.2 506.4 1156.9 508 1160C510.7 1165.1 512.4 1175.1 515 1182C517.4 1188.4 520.3 1194 523 1200C525.7 1206 528.9 1211.6 531.2 1218C533.6 1224.7 534.6 1232 536.9 1239.3C539.3 1247.1 542.5 1255.6 545.4 1263.4C548.2 1270.8 550.8 1277.6 554 1284.8C557.4 1292.3 561.2 1300.3 565.3 1307.5C569.3 1314.5 573.2 1321.3 578.1 1327.4C583.1 1333.6 588.5 1339.6 595.2 1344.5C602.6 1349.9 611.7 1354.3 621.1 1358C631.4 1362 641.7 1364.4 654.9 1367C673 1370.5 698.1 1372.9 720 1375C742.3 1377.1 765.1 1377.9 787.6 1379.4" stroke="#000" stroke-width="5.4" stroke-dasharray="12.3 12.1"/>
<path d="M176.3 1381.8C196.7 1380.4 217.1 1379.2 237.6 1377.7C258.1 1376.1 280.8 1375.1 299.2 1372.5C314.3 1370.4 327 1368.9 340.3 1364.4C354 1359.8 370.4 1350.7 380 1345C385.9 1341.5 389.3 1339.1 393.7 1335.4C398.4 1331.4 403 1326.9 407.4 1321.7C412.2 1316 416.7 1309.4 421.1 1302.5C425.9 1294.9 430.7 1285.8 434.7 1277.9C438.3 1270.8 441.3 1264.3 444.3 1257.4C447.2 1250.6 450 1243.8 452.5 1236.9C455 1230.1 457.2 1223.4 459.4 1216.3C461.7 1208.8 464 1201.2 466.2 1193.1C468.6 1184.4 470.8 1174.6 473.1 1165.7C475.3 1157.3 477.4 1148.6 479.9 1141.1C482 1134.6 484.1 1127.9 486.7 1123.3C488.6 1120 490.7 1115.7 492.8 1115.6C494.7 1115.5 496.8 1119.1 498.5 1121.3C500.5 1123.8 502.2 1126.1 503.8 1130C506.5 1136.3 508.2 1147.7 510.5 1156.8C512.9 1166.2 515.4 1175.8 518 1185.3C520.7 1194.8 523.6 1204.2 526.4 1213.7C529.2 1223.2 531.9 1232.6 534.9 1242.1C537.9 1251.6 541 1261.1 544.2 1270.6C547.5 1280.1 550.3 1289.8 554.4 1299C558.6 1308.4 563 1318.3 569.3 1326.4C575.6 1334.5 584.8 1342.5 592.3 1347.7C598.3 1351.8 603.7 1353.8 610 1356.5C617 1359.5 623.5 1362.4 632.4 1364.8C644.7 1368.1 661.8 1370.8 677.4 1372.7C694.2 1374.8 712.1 1375.4 730 1376.5C748.8 1377.6 768.4 1378.4 787.6 1379.4" stroke="#3333ff" stroke-width="8.7"/>
<path d="M176.3 1383.8C203.6 1382.8 232.8 1382.5 258.1 1380.8C280.1 1379.3 301.3 1377.4 319.7 1374.6C334.8 1372.3 349.9 1370 360.8 1366.4C368.6 1363.8 373.6 1360.9 380 1357.3C386.9 1353.4 394 1349.4 400.5 1343.6C407.9 1337 415.4 1327.8 421.1 1319C426.7 1310.4 430.7 1301.4 434.7 1291.6C439 1281 442.6 1268.2 445.7 1257.4C448.4 1247.8 450.4 1239.2 452.5 1230C454.5 1220.9 456.3 1212.3 458 1202.6C459.9 1191.8 461.7 1180.3 463.5 1168.4C465.4 1155.4 467.4 1141.2 469 1127.4C470.6 1113.4 471.5 1099.8 473 1085C474.6 1068.8 475 1046.7 478.3 1034.2C480.3 1026.5 483.4 1016.3 486.2 1016.2C489 1016.1 493 1027 495.2 1034.2C498.2 1043.9 498.4 1058.6 500 1070C501.4 1080.4 502.8 1089.6 504.2 1100C505.7 1111.2 507.2 1124.7 508.5 1135C509.5 1143.1 510 1149.1 511.3 1156.8C512.8 1165.7 515.2 1175.8 517 1185.3C518.8 1194.8 520.2 1204.2 522 1213.7C523.8 1223.2 525.7 1232.6 527.7 1242.1C529.7 1251.6 531.6 1261.2 534.1 1270.6C536.6 1280.1 539.1 1289.6 542.6 1299C546.2 1308.6 549.8 1318.3 555.4 1327.4C561.4 1337.3 569.7 1349.7 578.1 1355.8C584.9 1360.7 590.9 1361.5 600 1364C614 1367.8 635.6 1371.3 654.9 1373.8C676.2 1376.6 700 1377.9 722.3 1379.4C744.2 1380.9 765.8 1381.7 787.6 1382.8" stroke="#e600e6" stroke-width="3.8"/>
</g>
<g clip-path="url(#c8)" fill="none" stroke-linejoin="round">
<path d="M941 1379.7C954.4 1378 967.8 1377.4 981.1 1374.6C994.8 1371.7 1010.9 1366.7 1022.1 1362.3C1030.3 1359 1036.2 1356.7 1042.7 1352C1050 1346.7 1057.1 1339 1063.2 1331.5C1069.4 1323.9 1074.8 1315.4 1079.6 1306.8C1084.4 1298.2 1088.3 1289.6 1091.9 1279.9C1095.9 1269.2 1099.2 1257.6 1102.2 1245.2C1105.5 1231.2 1108 1215.7 1110.4 1200.1C1112.9 1183.6 1114.5 1165.8 1116.6 1148.7C1118.6 1131.6 1120.7 1113.5 1122.7 1097.4C1124.5 1082.9 1126.2 1070.2 1127.9 1056.3C1129.6 1042.1 1131.9 1025.4 1133 1013.2C1133.8 1004.3 1134 997.7 1134.5 990" stroke="#3333ff" stroke-width="8.7"/>
<path d="M1165 990C1165.3 997.7 1165.2 1003.9 1165.9 1013.2C1167 1027.4 1169.9 1049 1172 1066.6C1174 1083.9 1176.1 1100.8 1178.2 1117.9C1180.3 1135 1182 1152.2 1184.4 1169.3C1186.8 1186.4 1189.3 1204.5 1192.6 1220.6C1195.6 1235.1 1198.9 1248.6 1202.8 1261.7C1206.5 1273.9 1210.5 1286.4 1215.1 1296.6C1218.9 1305.1 1223 1312.7 1227.5 1319.2C1231.4 1324.8 1234.8 1329.1 1240 1333.5C1246.1 1338.7 1253.9 1342.7 1262.5 1347.3C1273.3 1353.1 1286.2 1360.7 1299.9 1364.8C1315.1 1369.4 1333.2 1370.8 1349.9 1372.3C1366.5 1373.8 1386.1 1374.1 1399.9 1373.6C1409.7 1373.2 1417.1 1372.2 1424.9 1371.1C1431.9 1370.1 1438.4 1368.6 1444.8 1367.3C1450.8 1366.1 1457 1363.6 1462.3 1363.6C1466.8 1363.6 1470 1364.8 1474.8 1366.1C1481.8 1368 1491.4 1372.7 1499.8 1374.8C1508 1376.8 1514.3 1377.6 1524.8 1378.6C1542.7 1380.3 1573.3 1380.3 1597.6 1381.1" stroke="#3333ff" stroke-width="8.7"/>
<path d="M941 1376.7C954.4 1373.9 968.7 1371.7 981.1 1368.4C992.1 1365.4 1002.2 1362.7 1011.9 1358.2C1021.4 1353.8 1030.7 1348.4 1038.6 1341.8C1046.4 1335.3 1053.3 1327.4 1059.1 1319.2C1064.9 1311 1068.4 1301.3 1073.5 1292.5C1078.7 1283.5 1084.9 1275.2 1089.9 1265.8C1095.2 1256 1100.6 1246.5 1104.3 1235C1108.6 1221.6 1109.8 1205.4 1112.5 1189.8C1115.3 1173.3 1118 1155.6 1120.7 1138.5C1123.4 1121.4 1126.1 1103.9 1128.9 1087.1C1131.6 1071 1134.2 1052.7 1137.1 1039.9C1139.1 1030.9 1140.8 1023.1 1143.3 1017.3C1145 1013.4 1146.9 1008.2 1149 1008C1151 1007.8 1153.8 1011.5 1155.6 1015.3C1159.3 1023.1 1159.6 1041.9 1161.8 1056.3C1164.3 1072.5 1167.3 1090.6 1170 1107.7C1172.7 1124.8 1174.6 1144.2 1178.2 1159C1181.1 1170.7 1184.8 1179.6 1188.5 1189.8C1192.3 1200.1 1197.1 1209 1200.8 1220.6C1205.3 1235 1207.9 1255.7 1212.5 1269.9C1216.2 1281.3 1220.4 1291.1 1225 1299.9C1228.9 1307.4 1232 1313.4 1237.5 1319.9C1244 1327.6 1252.9 1335.6 1262.5 1342.3C1273.3 1349.9 1286.1 1357.5 1299.9 1362.3C1315 1367.5 1333.2 1369 1349.9 1371.1C1366.5 1373.2 1384.4 1374.7 1399.9 1374.8C1413.3 1374.8 1425.9 1373.2 1437.4 1372.3C1447.3 1371.5 1456.2 1369.2 1464.8 1369.8C1472.7 1370.3 1478.8 1373.4 1487.3 1374.8C1498.2 1376.6 1510.2 1377.5 1524.8 1378.6C1545.1 1380.1 1573.3 1380.7 1597.6 1381.8" stroke="#000" stroke-width="5.4" stroke-dasharray="12.3 12.1"/>
<path d="M941 1380.8C961.2 1378.7 983.4 1377.3 1001.6 1374.6C1016.7 1372.3 1030.3 1370.8 1042.7 1366.4C1054 1362.4 1064.8 1357.1 1073.5 1350C1081.8 1343.2 1088.3 1334.6 1094 1325.3C1100 1315.5 1104.4 1304.2 1108.4 1292.5C1112.7 1279.7 1115.5 1265.1 1118.6 1251.4C1121.7 1237.7 1124.3 1224.8 1126.9 1210.3C1129.8 1194.2 1132.8 1176.9 1135.1 1159C1137.6 1139.4 1139.2 1117 1141.2 1097.4C1143 1079.5 1144.9 1061.3 1146.4 1046.1C1147.6 1033.9 1148.7 1023.2 1149.4 1013.2C1150 1004.8 1150.1 997.7 1150.5 990" stroke="#e600e6" stroke-width="3.8"/>
<path d="M1186.5 990C1186.8 997.7 1186.9 1003.9 1187.4 1013.2C1188.2 1027.3 1190 1048.2 1191.5 1066.6C1193.1 1086.4 1194.8 1107.7 1196.7 1128.2C1198.6 1148.7 1200.7 1172.2 1202.8 1189.8C1204.4 1203.1 1205.4 1212.2 1207.5 1224.9C1210 1240.1 1213.5 1259.3 1217.5 1274.9C1221.1 1289.1 1224 1303.6 1230 1314.9C1235.3 1324.8 1242.4 1332.7 1250 1339.8C1257.4 1346.8 1264.7 1352.6 1275 1357.3C1288.3 1363.4 1306.4 1366.6 1324.9 1369.8C1347.2 1373.7 1373.1 1375.5 1399.9 1377.3C1430.8 1379.4 1466.7 1380.3 1499.8 1381.1C1532.6 1381.9 1565 1381.9 1597.6 1382.3" stroke="#e600e6" stroke-width="3.8"/>
</g>
<line x1="171.7" y1="720.9" x2="783.2" y2="720.9" stroke="#000" stroke-width="1.4"/>
<line x1="935.9" y1="694.8" x2="1594.6" y2="694.8" stroke="#000" stroke-width="1.4"/>
<line x1="176.3" y1="1683" x2="787.6" y2="1683" stroke="#000" stroke-width="1.4"/>
<line x1="941" y1="1618.4" x2="1597.6" y2="1618.4" stroke="#000" stroke-width="1.4"/>
<rect x="171.7" y="86.7" width="611.5" height="764.1" fill="none" stroke="#000" stroke-width="2.4"/>
<line x1="171.7" y1="460.3" x2="783.2" y2="460.3" stroke="#000" stroke-width="3.2"/>
<line x1="171.7" y1="385.6" x2="192.7" y2="385.6" stroke="#000" stroke-width="2.0"/>
<line x1="783.2" y1="385.6" x2="762.2" y2="385.6" stroke="#000" stroke-width="2.0"/>
<line x1="171.7" y1="310.9" x2="192.7" y2="310.9" stroke="#000" stroke-width="2.0"/>
<line x1="783.2" y1="310.9" x2="762.2" y2="310.9" stroke="#000" stroke-width="2.0"/>
<line x1="171.7" y1="236.1" x2="192.7" y2="236.1" stroke="#000" stroke-width="2.0"/>
<line x1="783.2" y1="236.1" x2="762.2" y2="236.1" stroke="#000" stroke-width="2.0"/>
<line x1="171.7" y1="161.4" x2="192.7" y2="161.4" stroke="#000" stroke-width="2.0"/>
<line x1="783.2" y1="161.4" x2="762.2" y2="161.4" stroke="#000" stroke-width="2.0"/>
<line x1="171.7" y1="525.7" x2="192.7" y2="525.7" stroke="#000" stroke-width="2.0"/>
<line x1="783.2" y1="525.7" x2="762.2" y2="525.7" stroke="#000" stroke-width="2.0"/>
<line x1="171.7" y1="623.3" x2="192.7" y2="623.3" stroke="#000" stroke-width="2.0"/>
<line x1="783.2" y1="623.3" x2="762.2" y2="623.3" stroke="#000" stroke-width="2.0"/>
<line x1="171.7" y1="720.9" x2="192.7" y2="720.9" stroke="#000" stroke-width="2.0"/>
<line x1="783.2" y1="720.9" x2="762.2" y2="720.9" stroke="#000" stroke-width="2.0"/>
<line x1="171.7" y1="818.5" x2="192.7" y2="818.5" stroke="#000" stroke-width="2.0"/>
<line x1="783.2" y1="818.5" x2="762.2" y2="818.5" stroke="#000" stroke-width="2.0"/>
<line x1="232.9" y1="460.3" x2="232.9" y2="481.3" stroke="#000" stroke-width="2.0"/>
<line x1="232.9" y1="850.8" x2="232.9" y2="829.8" stroke="#000" stroke-width="2.0"/>
<line x1="355.1" y1="460.3" x2="355.1" y2="481.3" stroke="#000" stroke-width="2.0"/>
<line x1="355.1" y1="850.8" x2="355.1" y2="829.8" stroke="#000" stroke-width="2.0"/>
<line x1="477.4" y1="460.3" x2="477.4" y2="481.3" stroke="#000" stroke-width="2.0"/>
<line x1="477.4" y1="850.8" x2="477.4" y2="829.8" stroke="#000" stroke-width="2.0"/>
<line x1="599.8" y1="460.3" x2="599.8" y2="481.3" stroke="#000" stroke-width="2.0"/>
<line x1="599.8" y1="850.8" x2="599.8" y2="829.8" stroke="#000" stroke-width="2.0"/>
<line x1="722" y1="460.3" x2="722" y2="481.3" stroke="#000" stroke-width="2.0"/>
<line x1="722" y1="850.8" x2="722" y2="829.8" stroke="#000" stroke-width="2.0"/>
<text x="145.9" y="474.6" font-size="45" text-anchor="end">0</text>
<text x="145.9" y="399.9" font-size="45" text-anchor="end">10</text>
<text x="145.9" y="325.2" font-size="45" text-anchor="end">20</text>
<text x="145.9" y="250.4" font-size="45" text-anchor="end">30</text>
<text x="145.9" y="175.7" font-size="45" text-anchor="end">40</text>
<text x="145.9" y="101" font-size="45" text-anchor="end">50</text>
<text x="145.9" y="540" font-size="45" text-anchor="end">30</text>
<text x="145.9" y="637.6" font-size="45" text-anchor="end">15</text>
<text x="145.9" y="735.2" font-size="45" text-anchor="end">0</text>
<text x="145.9" y="832.8" font-size="45" text-anchor="end">-15</text>
<text x="232.9" y="903.8" font-size="45" text-anchor="middle">1.6</text>
<text x="355.1" y="903.8" font-size="45" text-anchor="middle">1.8</text>
<text x="477.4" y="903.8" font-size="45" text-anchor="middle">2</text>
<text x="599.8" y="903.8" font-size="45" text-anchor="middle">2.2</text>
<text x="722" y="903.8" font-size="45" text-anchor="middle">2.4</text>
<rect x="935.9" y="91.1" width="658.7" height="764.4" fill="none" stroke="#000" stroke-width="2.4"/>
<line x1="935.9" y1="465.2" x2="1594.6" y2="465.2" stroke="#000" stroke-width="3.2"/>
<line x1="935.9" y1="382.1" x2="956.9" y2="382.1" stroke="#000" stroke-width="2.0"/>
<line x1="1594.6" y1="382.1" x2="1573.6" y2="382.1" stroke="#000" stroke-width="2.0"/>
<line x1="935.9" y1="298.9" x2="956.9" y2="298.9" stroke="#000" stroke-width="2.0"/>
<line x1="1594.6" y1="298.9" x2="1573.6" y2="298.9" stroke="#000" stroke-width="2.0"/>
<line x1="935.9" y1="215.8" x2="956.9" y2="215.8" stroke="#000" stroke-width="2.0"/>
<line x1="1594.6" y1="215.8" x2="1573.6" y2="215.8" stroke="#000" stroke-width="2.0"/>
<line x1="935.9" y1="132.7" x2="956.9" y2="132.7" stroke="#000" stroke-width="2.0"/>
<line x1="1594.6" y1="132.7" x2="1573.6" y2="132.7" stroke="#000" stroke-width="2.0"/>
<line x1="935.9" y1="511.2" x2="956.9" y2="511.2" stroke="#000" stroke-width="2.0"/>
<line x1="1594.6" y1="511.2" x2="1573.6" y2="511.2" stroke="#000" stroke-width="2.0"/>
<line x1="935.9" y1="580" x2="956.9" y2="580" stroke="#000" stroke-width="2.0"/>
<line x1="1594.6" y1="580" x2="1573.6" y2="580" stroke="#000" stroke-width="2.0"/>
<line x1="935.9" y1="648.9" x2="956.9" y2="648.9" stroke="#000" stroke-width="2.0"/>
<line x1="1594.6" y1="648.9" x2="1573.6" y2="648.9" stroke="#000" stroke-width="2.0"/>
<line x1="935.9" y1="717.8" x2="956.9" y2="717.8" stroke="#000" stroke-width="2.0"/>
<line x1="1594.6" y1="717.8" x2="1573.6" y2="717.8" stroke="#000" stroke-width="2.0"/>
<line x1="935.9" y1="786.6" x2="956.9" y2="786.6" stroke="#000" stroke-width="2.0"/>
<line x1="1594.6" y1="786.6" x2="1573.6" y2="786.6" stroke="#000" stroke-width="2.0"/>
<line x1="1059.4" y1="465.2" x2="1059.4" y2="486.2" stroke="#000" stroke-width="2.0"/>
<line x1="1059.4" y1="855.5" x2="1059.4" y2="834.5" stroke="#000" stroke-width="2.0"/>
<line x1="1182.9" y1="465.2" x2="1182.9" y2="486.2" stroke="#000" stroke-width="2.0"/>
<line x1="1182.9" y1="855.5" x2="1182.9" y2="834.5" stroke="#000" stroke-width="2.0"/>
<line x1="1306.4" y1="465.2" x2="1306.4" y2="486.2" stroke="#000" stroke-width="2.0"/>
<line x1="1306.4" y1="855.5" x2="1306.4" y2="834.5" stroke="#000" stroke-width="2.0"/>
<line x1="1429.9" y1="465.2" x2="1429.9" y2="486.2" stroke="#000" stroke-width="2.0"/>
<line x1="1429.9" y1="855.5" x2="1429.9" y2="834.5" stroke="#000" stroke-width="2.0"/>
<line x1="1553.4" y1="465.2" x2="1553.4" y2="486.2" stroke="#000" stroke-width="2.0"/>
<line x1="1553.4" y1="855.5" x2="1553.4" y2="834.5" stroke="#000" stroke-width="2.0"/>
<text x="918.6" y="479.5" font-size="45" text-anchor="end">0</text>
<text x="918.6" y="396.4" font-size="45" text-anchor="end">20</text>
<text x="918.6" y="313.2" font-size="45" text-anchor="end">40</text>
<text x="918.6" y="230.1" font-size="45" text-anchor="end">60</text>
<text x="918.6" y="147" font-size="45" text-anchor="end">80</text>
<text x="918.6" y="525.5" font-size="45" text-anchor="end">80</text>
<text x="918.6" y="594.3" font-size="45" text-anchor="end">50</text>
<text x="918.6" y="663.2" font-size="45" text-anchor="end">20</text>
<text x="918.6" y="732" font-size="45" text-anchor="end">-10</text>
<text x="918.6" y="800.9" font-size="45" text-anchor="end">-40</text>
<text x="918.6" y="869.7" font-size="45" text-anchor="end">-70</text>
<text x="946.2" y="904.1" font-size="45" text-anchor="middle">1.2</text>
<text x="1064" y="904.1" font-size="45" text-anchor="middle">1.5</text>
<text x="1187.5" y="904.1" font-size="45" text-anchor="middle">1.8</text>
<text x="1311" y="904.1" font-size="45" text-anchor="middle">2.1</text>
<text x="1434.5" y="904.1" font-size="45" text-anchor="middle">2.4</text>
<text x="1558" y="904.1" font-size="45" text-anchor="middle">2.7</text>
<rect x="176.3" y="1013.3" width="611.3" height="752" fill="none" stroke="#000" stroke-width="2.4"/>
<line x1="176.3" y1="1386.2" x2="787.6" y2="1386.2" stroke="#000" stroke-width="3.2"/>
<line x1="176.3" y1="1310.9" x2="197.3" y2="1310.9" stroke="#000" stroke-width="2.0"/>
<line x1="787.6" y1="1310.9" x2="766.6" y2="1310.9" stroke="#000" stroke-width="2.0"/>
<line x1="176.3" y1="1236.5" x2="197.3" y2="1236.5" stroke="#000" stroke-width="2.0"/>
<line x1="787.6" y1="1236.5" x2="766.6" y2="1236.5" stroke="#000" stroke-width="2.0"/>
<line x1="176.3" y1="1162.1" x2="197.3" y2="1162.1" stroke="#000" stroke-width="2.0"/>
<line x1="787.6" y1="1162.1" x2="766.6" y2="1162.1" stroke="#000" stroke-width="2.0"/>
<line x1="176.3" y1="1087.7" x2="197.3" y2="1087.7" stroke="#000" stroke-width="2.0"/>
<line x1="787.6" y1="1087.7" x2="766.6" y2="1087.7" stroke="#000" stroke-width="2.0"/>
<line x1="176.3" y1="1436.1" x2="197.3" y2="1436.1" stroke="#000" stroke-width="2.0"/>
<line x1="787.6" y1="1436.1" x2="766.6" y2="1436.1" stroke="#000" stroke-width="2.0"/>
<line x1="176.3" y1="1518.4" x2="197.3" y2="1518.4" stroke="#000" stroke-width="2.0"/>
<line x1="787.6" y1="1518.4" x2="766.6" y2="1518.4" stroke="#000" stroke-width="2.0"/>
<line x1="176.3" y1="1600.7" x2="197.3" y2="1600.7" stroke="#000" stroke-width="2.0"/>
<line x1="787.6" y1="1600.7" x2="766.6" y2="1600.7" stroke="#000" stroke-width="2.0"/>
<line x1="176.3" y1="1683" x2="197.3" y2="1683" stroke="#000" stroke-width="2.0"/>
<line x1="787.6" y1="1683" x2="766.6" y2="1683" stroke="#000" stroke-width="2.0"/>
<line x1="237.4" y1="1386.2" x2="237.4" y2="1407.2" stroke="#000" stroke-width="2.0"/>
<line x1="237.4" y1="1765.3" x2="237.4" y2="1744.3" stroke="#000" stroke-width="2.0"/>
<line x1="359.7" y1="1386.2" x2="359.7" y2="1407.2" stroke="#000" stroke-width="2.0"/>
<line x1="359.7" y1="1765.3" x2="359.7" y2="1744.3" stroke="#000" stroke-width="2.0"/>
<line x1="481.9" y1="1386.2" x2="481.9" y2="1407.2" stroke="#000" stroke-width="2.0"/>
<line x1="481.9" y1="1765.3" x2="481.9" y2="1744.3" stroke="#000" stroke-width="2.0"/>
<line x1="604.2" y1="1386.2" x2="604.2" y2="1407.2" stroke="#000" stroke-width="2.0"/>
<line x1="604.2" y1="1765.3" x2="604.2" y2="1744.3" stroke="#000" stroke-width="2.0"/>
<line x1="726.5" y1="1386.2" x2="726.5" y2="1407.2" stroke="#000" stroke-width="2.0"/>
<line x1="726.5" y1="1765.3" x2="726.5" y2="1744.3" stroke="#000" stroke-width="2.0"/>
<text x="149.8" y="1399.6" font-size="45" text-anchor="end">0</text>
<text x="149.8" y="1325.2" font-size="45" text-anchor="end">4</text>
<text x="149.8" y="1250.8" font-size="45" text-anchor="end">8</text>
<text x="149.8" y="1176.4" font-size="45" text-anchor="end">12</text>
<text x="149.8" y="1102" font-size="45" text-anchor="end">16</text>
<text x="149.8" y="1027.6" font-size="45" text-anchor="end">20</text>
<text x="149.8" y="1450.4" font-size="45" text-anchor="end">15</text>
<text x="149.8" y="1532.7" font-size="45" text-anchor="end">10</text>
<text x="149.8" y="1615" font-size="45" text-anchor="end">5</text>
<text x="149.8" y="1697.3" font-size="45" text-anchor="end">0</text>
<text x="149.8" y="1779.6" font-size="45" text-anchor="end">-5</text>
<text x="237.4" y="1811.2" font-size="45" text-anchor="middle">1.6</text>
<text x="359.7" y="1811.2" font-size="45" text-anchor="middle">1.8</text>
<text x="481.9" y="1811.2" font-size="45" text-anchor="middle">2</text>
<text x="604.2" y="1811.2" font-size="45" text-anchor="middle">2.2</text>
<text x="726.5" y="1811.2" font-size="45" text-anchor="middle">2.4</text>
<rect x="941" y="1012.2" width="656.6" height="752.3" fill="none" stroke="#000" stroke-width="2.4"/>
<line x1="941" y1="1385.2" x2="1597.6" y2="1385.2" stroke="#000" stroke-width="3.2"/>
<line x1="941" y1="1303.7" x2="962" y2="1303.7" stroke="#000" stroke-width="2.0"/>
<line x1="1597.6" y1="1303.7" x2="1576.6" y2="1303.7" stroke="#000" stroke-width="2.0"/>
<line x1="941" y1="1222.2" x2="962" y2="1222.2" stroke="#000" stroke-width="2.0"/>
<line x1="1597.6" y1="1222.2" x2="1576.6" y2="1222.2" stroke="#000" stroke-width="2.0"/>
<line x1="941" y1="1140.8" x2="962" y2="1140.8" stroke="#000" stroke-width="2.0"/>
<line x1="1597.6" y1="1140.8" x2="1576.6" y2="1140.8" stroke="#000" stroke-width="2.0"/>
<line x1="941" y1="1059.3" x2="962" y2="1059.3" stroke="#000" stroke-width="2.0"/>
<line x1="1597.6" y1="1059.3" x2="1576.6" y2="1059.3" stroke="#000" stroke-width="2.0"/>
<line x1="941" y1="1443.1" x2="962" y2="1443.1" stroke="#000" stroke-width="2.0"/>
<line x1="1597.6" y1="1443.1" x2="1576.6" y2="1443.1" stroke="#000" stroke-width="2.0"/>
<line x1="941" y1="1513.2" x2="962" y2="1513.2" stroke="#000" stroke-width="2.0"/>
<line x1="1597.6" y1="1513.2" x2="1576.6" y2="1513.2" stroke="#000" stroke-width="2.0"/>
<line x1="941" y1="1583.3" x2="962" y2="1583.3" stroke="#000" stroke-width="2.0"/>
<line x1="1597.6" y1="1583.3" x2="1576.6" y2="1583.3" stroke="#000" stroke-width="2.0"/>
<line x1="941" y1="1653.5" x2="962" y2="1653.5" stroke="#000" stroke-width="2.0"/>
<line x1="1597.6" y1="1653.5" x2="1576.6" y2="1653.5" stroke="#000" stroke-width="2.0"/>
<line x1="941" y1="1723.6" x2="962" y2="1723.6" stroke="#000" stroke-width="2.0"/>
<line x1="1597.6" y1="1723.6" x2="1576.6" y2="1723.6" stroke="#000" stroke-width="2.0"/>
<line x1="1064.6" y1="1385.2" x2="1064.6" y2="1406.2" stroke="#000" stroke-width="2.0"/>
<line x1="1064.6" y1="1764.5" x2="1064.6" y2="1743.5" stroke="#000" stroke-width="2.0"/>
<line x1="1188.2" y1="1385.2" x2="1188.2" y2="1406.2" stroke="#000" stroke-width="2.0"/>
<line x1="1188.2" y1="1764.5" x2="1188.2" y2="1743.5" stroke="#000" stroke-width="2.0"/>
<line x1="1311.8" y1="1385.2" x2="1311.8" y2="1406.2" stroke="#000" stroke-width="2.0"/>
<line x1="1311.8" y1="1764.5" x2="1311.8" y2="1743.5" stroke="#000" stroke-width="2.0"/>
<line x1="1435.4" y1="1385.2" x2="1435.4" y2="1406.2" stroke="#000" stroke-width="2.0"/>
<line x1="1435.4" y1="1764.5" x2="1435.4" y2="1743.5" stroke="#000" stroke-width="2.0"/>
<line x1="1559" y1="1385.2" x2="1559" y2="1406.2" stroke="#000" stroke-width="2.0"/>
<line x1="1559" y1="1764.5" x2="1559" y2="1743.5" stroke="#000" stroke-width="2.0"/>
<text x="923.3" y="1399.5" font-size="45" text-anchor="end">0</text>
<text x="923.3" y="1318" font-size="45" text-anchor="end">12</text>
<text x="923.3" y="1236.5" font-size="45" text-anchor="end">24</text>
<text x="923.3" y="1155.1" font-size="45" text-anchor="end">36</text>
<text x="923.3" y="1073.6" font-size="45" text-anchor="end">48</text>
<text x="923.3" y="1457.4" font-size="45" text-anchor="end">30</text>
<text x="923.3" y="1527.5" font-size="45" text-anchor="end">18</text>
<text x="923.3" y="1597.6" font-size="45" text-anchor="end">6</text>
<text x="923.3" y="1667.8" font-size="45" text-anchor="end">-6</text>
<text x="923.3" y="1737.9" font-size="45" text-anchor="end">-18</text>
<text x="941" y="1811.4" font-size="45" text-anchor="middle">1.2</text>
<text x="1064.6" y="1811.4" font-size="45" text-anchor="middle">1.5</text>
<text x="1188.2" y="1811.4" font-size="45" text-anchor="middle">1.8</text>
<text x="1311.8" y="1811.4" font-size="45" text-anchor="middle">2.1</text>
<text x="1435.4" y="1811.4" font-size="45" text-anchor="middle">2.4</text>
<text x="1559" y="1811.4" font-size="45" text-anchor="middle">2.7</text>
<rect x="1361.9" y="158.2" width="201" height="137.9" fill="#fff"/>
<g clip-path="url(#c9)" fill="none" stroke-linejoin="round">
<path d="M1361.9 275C1366.3 274.7 1370.9 274.3 1375 274C1378.6 273.8 1382 273.3 1385 273.5C1387.6 273.7 1389.6 274.8 1392 275C1394.6 275.2 1397.4 274.9 1400 274.5C1402.7 274.1 1405.5 273.6 1408 272.5C1410.5 271.4 1412.7 269.9 1415 268C1417.7 265.8 1420.6 263.1 1423 260C1425.7 256.5 1427.7 251.8 1430 248C1432.1 244.5 1434.2 241.9 1436 238C1438.3 233 1439.9 225.7 1442 220C1443.9 214.7 1445.5 209.1 1448 205C1450 201.7 1453 200.5 1455 197C1457.9 192 1459.8 177 1461.8 177C1463.3 177 1464.7 183.9 1466 188C1467.5 193 1468.6 198.9 1470 205C1471.6 212.1 1473.1 221.2 1475 228C1476.5 233.6 1477.4 238.8 1480 243C1482.5 247 1486.6 249.8 1490 253C1493.3 256.1 1496.8 259.4 1500 262C1502.8 264.3 1505.5 265.7 1508 268C1510.5 270.4 1512.3 273.7 1515 276C1517.9 278.4 1521.2 280.5 1525 282C1529.4 283.7 1535.5 284.8 1540 285C1543.7 285.2 1546.5 284.3 1550 284C1554 283.6 1558.6 283.3 1562.9 283" stroke="#3333ff" stroke-width="8.7"/>
<path d="M1361.9 269C1364.6 268.7 1367.2 267.6 1370 268C1373.2 268.4 1376.6 271.7 1380 272C1383.3 272.3 1386.7 270.8 1390 270C1393.4 269.2 1396.7 268.3 1400 267C1403.4 265.7 1406.7 263.7 1410 262C1413.3 260.3 1416.5 258.9 1420 257C1423.9 254.9 1427.9 252.3 1432 250C1436.2 247.6 1440.9 245.1 1445 243C1448.5 241.2 1451.9 239.2 1455 238C1457.5 237 1459.8 235.7 1462 236C1464.2 236.3 1465.8 238.5 1468 240C1470.9 242 1474.5 244.5 1478 247C1481.8 249.8 1486.3 252.8 1490 256C1493.6 259.1 1496.4 263 1500 266C1503.7 269 1507.8 271.8 1512 274C1516.1 276.1 1520.5 277.4 1525 279C1529.8 280.7 1535.5 283 1540 284C1543.6 284.8 1546.5 285.5 1550 285C1554.1 284.4 1558.6 281.7 1562.9 280" stroke="#000" stroke-width="5.4" stroke-dasharray="12.3 12.1"/>
<path d="M1361.9 292.5C1374.6 292.8 1385.9 293.2 1400 293.5C1417.7 293.9 1437.3 294.1 1460 294.3C1489.7 294.5 1528.6 294.5 1562.9 294.6" stroke="#e600e6" stroke-width="3.8"/>
</g>
<rect x="1361.9" y="158.2" width="201" height="137.9" fill="none" stroke="#000" stroke-width="2.4"/>
<line x1="1395.4" y1="158.2" x2="1395.4" y2="179.2" stroke="#000" stroke-width="2.0"/>
<line x1="1395.4" y1="296.1" x2="1395.4" y2="275.1" stroke="#000" stroke-width="2.0"/>
<line x1="1462.4" y1="158.2" x2="1462.4" y2="179.2" stroke="#000" stroke-width="2.0"/>
<line x1="1462.4" y1="296.1" x2="1462.4" y2="275.1" stroke="#000" stroke-width="2.0"/>
<line x1="1529.4" y1="158.2" x2="1529.4" y2="179.2" stroke="#000" stroke-width="2.0"/>
<line x1="1529.4" y1="296.1" x2="1529.4" y2="275.1" stroke="#000" stroke-width="2.0"/>
<line x1="1361.9" y1="296.1" x2="1382.9" y2="296.1" stroke="#000" stroke-width="2.0"/>
<line x1="1562.9" y1="296.1" x2="1541.9" y2="296.1" stroke="#000" stroke-width="2.0"/>
<line x1="1361.9" y1="261.6" x2="1382.9" y2="261.6" stroke="#000" stroke-width="2.0"/>
<line x1="1562.9" y1="261.6" x2="1541.9" y2="261.6" stroke="#000" stroke-width="2.0"/>
<line x1="1361.9" y1="227.2" x2="1382.9" y2="227.2" stroke="#000" stroke-width="2.0"/>
<line x1="1562.9" y1="227.2" x2="1541.9" y2="227.2" stroke="#000" stroke-width="2.0"/>
<line x1="1361.9" y1="192.7" x2="1382.9" y2="192.7" stroke="#000" stroke-width="2.0"/>
<line x1="1562.9" y1="192.7" x2="1541.9" y2="192.7" stroke="#000" stroke-width="2.0"/>
<line x1="1361.9" y1="158.2" x2="1382.9" y2="158.2" stroke="#000" stroke-width="2.0"/>
<line x1="1562.9" y1="158.2" x2="1541.9" y2="158.2" stroke="#000" stroke-width="2.0"/>
<text x="1338.8" y="310.9" font-size="43" text-anchor="end">0</text>
<text x="1338.8" y="276.4" font-size="43" text-anchor="end">2.5</text>
<text x="1338.8" y="242" font-size="43" text-anchor="end">5</text>
<text x="1338.8" y="207.5" font-size="43" text-anchor="end">7.5</text>
<text x="1338.8" y="173" font-size="43" text-anchor="end">10</text>
<text x="1395.4" y="358.3" font-size="43" text-anchor="middle">2.4</text>
<text x="1462.4" y="358.3" font-size="43" text-anchor="middle">2.5</text>
<text x="1529.4" y="358.3" font-size="43" text-anchor="middle">2.6</text>
<rect x="1362" y="493" width="201" height="120" fill="#fff"/>
<line x1="1362" y1="529" x2="1563" y2="529" stroke="#000" stroke-width="1.4"/>
<g clip-path="url(#c10)" fill="none" stroke-linejoin="round">
<path d="M1362 558.8C1366.3 557.2 1371 555.6 1375 554C1378.6 552.6 1382 551.6 1385 550C1387.6 548.6 1389.6 546.6 1392 545C1394.6 543.3 1397.1 542.1 1400 540C1403.8 537.3 1409 533.3 1412.5 530C1415.4 527.3 1417.4 524.3 1420 522C1422.4 519.8 1425.1 517.7 1427.5 516.3C1429.4 515.2 1431 514.5 1433 514C1435.2 513.5 1437.9 514.1 1440 513.5C1441.9 513 1443.5 510.8 1445 511C1446.5 511.2 1447.8 513.2 1449 515C1450.6 517.5 1451.6 521.7 1453 525C1454.4 528.3 1456.2 531.3 1457.5 535C1459 539.4 1459.8 544.8 1461 550C1462.3 555.6 1463.7 561.7 1465 567.5C1466.3 573.3 1467.6 579.7 1469 585C1470.2 589.5 1471 594.4 1472.5 597.5C1473.5 599.7 1474.6 602.2 1476 602.5C1477.2 602.7 1478.5 601.2 1480 600C1482.2 598.3 1484.5 594.7 1487.5 592.5C1491 590 1496 587.9 1500 586.3C1503.5 584.9 1506.9 584.3 1510 583C1512.9 581.8 1515.5 580.5 1518 579C1520.5 577.5 1522.3 575.6 1525 573.8C1528.4 571.6 1532.9 569.3 1537 567C1541.2 564.7 1545.6 562.2 1550 560C1554.3 557.9 1558.7 556 1563 554" stroke="#3333ff" stroke-width="8.7"/>
<path d="M1362 566.3C1364 566.5 1365.9 567.2 1368 567C1370.3 566.8 1372.5 566.1 1375 565C1378.1 563.6 1381.6 560.5 1385 559C1388.2 557.6 1391.4 556.7 1395 556C1398.9 555.2 1403.5 555.9 1407.5 554.5C1411.8 553 1415.7 549 1420 547C1424.1 545.1 1428.5 542.9 1432.5 542.5C1436 542.1 1439.2 542.8 1442.5 543.8C1445.9 544.8 1449.6 546.5 1452.5 548.8C1455.4 551.1 1457.3 554.6 1460 557.5C1463 560.8 1466.4 564.3 1470 567.5C1473.8 570.9 1478.8 575 1482.5 577.5C1485.2 579.3 1487.5 580.8 1490 581.5C1492.3 582.2 1494.5 582.4 1497 582C1500.2 581.5 1503.7 579.3 1507.5 577.5C1512.1 575.4 1517.5 572.5 1522.5 570C1527.5 567.5 1531.8 565.2 1537.5 562.5C1544.8 559 1554.5 554.8 1563 551" stroke="#000" stroke-width="5.4" stroke-dasharray="12.3 12.1"/>
<path d="M1362 595C1374.7 590.8 1386.4 586.8 1400 582.5C1415.5 577.6 1433.3 572.1 1450 567.5C1466.6 562.9 1482.3 559 1500 555C1519.7 550.6 1542 546.7 1563 542.5" stroke="#e600e6" stroke-width="3.8"/>
</g>
<rect x="1362" y="493" width="201" height="120" fill="none" stroke="#000" stroke-width="2.4"/>
<line x1="1395.5" y1="493" x2="1395.5" y2="514" stroke="#000" stroke-width="2.0"/>
<line x1="1395.5" y1="613" x2="1395.5" y2="592" stroke="#000" stroke-width="2.0"/>
<line x1="1462.5" y1="493" x2="1462.5" y2="514" stroke="#000" stroke-width="2.0"/>
<line x1="1462.5" y1="613" x2="1462.5" y2="592" stroke="#000" stroke-width="2.0"/>
<line x1="1529.5" y1="493" x2="1529.5" y2="514" stroke="#000" stroke-width="2.0"/>
<line x1="1529.5" y1="613" x2="1529.5" y2="592" stroke="#000" stroke-width="2.0"/>
<line x1="1362" y1="493" x2="1383" y2="493" stroke="#000" stroke-width="2.0"/>
<line x1="1563" y1="493" x2="1542" y2="493" stroke="#000" stroke-width="2.0"/>
<line x1="1362" y1="523" x2="1383" y2="523" stroke="#000" stroke-width="2.0"/>
<line x1="1563" y1="523" x2="1542" y2="523" stroke="#000" stroke-width="2.0"/>
<line x1="1362" y1="553" x2="1383" y2="553" stroke="#000" stroke-width="2.0"/>
<line x1="1563" y1="553" x2="1542" y2="553" stroke="#000" stroke-width="2.0"/>
<line x1="1362" y1="583" x2="1383" y2="583" stroke="#000" stroke-width="2.0"/>
<line x1="1563" y1="583" x2="1542" y2="583" stroke="#000" stroke-width="2.0"/>
<line x1="1362" y1="613" x2="1383" y2="613" stroke="#000" stroke-width="2.0"/>
<line x1="1563" y1="613" x2="1542" y2="613" stroke="#000" stroke-width="2.0"/>
<text x="1338.8" y="507.8" font-size="43" text-anchor="end">3</text>
<text x="1338.8" y="537.8" font-size="43" text-anchor="end">0.5</text>
<text x="1338.8" y="567.8" font-size="43" text-anchor="end">-2</text>
<text x="1338.8" y="597.8" font-size="43" text-anchor="end">-4.5</text>
<text x="1338.8" y="627.8" font-size="43" text-anchor="end">-7</text>
<text x="1395.5" y="675" font-size="43" text-anchor="middle">2.4</text>
<text x="1462.5" y="675" font-size="43" text-anchor="middle">2.5</text>
<text x="1529.5" y="675" font-size="43" text-anchor="middle">2.6</text>
<rect x="1321.2" y="1123.7" width="247.3" height="138.7" fill="#fff"/>
<g clip-path="url(#c11)" fill="none" stroke-linejoin="round">
<path d="M1321.2 1204C1330.8 1202.2 1340.8 1201.5 1349.9 1198.7C1358.7 1195.9 1367.3 1192.2 1374.9 1187.4C1382.3 1182.6 1388.7 1176.2 1394.9 1170C1401.2 1163.8 1406.8 1155.1 1412.4 1150C1416.7 1146.2 1420.8 1143.1 1424.9 1141.2C1428.3 1139.7 1431.4 1138.5 1434.9 1138.7C1438.9 1139 1443.4 1140.9 1447.4 1143.7C1452.6 1147.3 1457.3 1154 1462.3 1160C1468 1166.8 1473.5 1175.3 1479.8 1182.4C1486 1189.5 1492.3 1196.8 1499.8 1202.4C1507.3 1208.1 1516.2 1212.8 1524.8 1216.2C1532.9 1219.4 1542.1 1220.4 1549.8 1222.4C1556.5 1224.2 1562.3 1225.9 1568.5 1227.6" stroke="#3333ff" stroke-width="8.7"/>
<path d="M1321.2 1196.3C1330.8 1195 1340.7 1194.2 1349.9 1192.4C1358.6 1190.7 1366.6 1188.7 1374.9 1186.2C1383.3 1183.7 1391.5 1180 1399.9 1177.5C1408.2 1175 1418 1172.3 1424.9 1171.2C1429.7 1170.5 1433.3 1170.1 1437.4 1170.5C1441.6 1170.9 1445.4 1171.7 1449.9 1173.7C1456 1176.5 1463.5 1182.6 1469.8 1187.4C1476 1192.1 1480.6 1198 1487.3 1202.4C1494.6 1207.3 1503.9 1211.3 1512.3 1214.9C1520.5 1218.4 1528.4 1221.4 1537.3 1223.7C1547 1226.2 1558.1 1227.2 1568.5 1228.9" stroke="#000" stroke-width="5.4" stroke-dasharray="12.3 12.1"/>
<path d="M1321.2 1231.1C1339.1 1233.6 1357.3 1236.8 1374.9 1238.7C1391.8 1240.5 1408.2 1241.4 1424.9 1242.4C1441.5 1243.4 1458.2 1244.1 1474.8 1244.9C1491.5 1245.7 1508.7 1246.6 1524.8 1247.4C1539.9 1248.1 1553.9 1248.7 1568.5 1249.4" stroke="#e600e6" stroke-width="3.8"/>
</g>
<rect x="1321.2" y="1123.7" width="247.3" height="138.7" fill="none" stroke="#000" stroke-width="2.4"/>
<line x1="1381.2" y1="1123.7" x2="1381.2" y2="1144.7" stroke="#000" stroke-width="2.0"/>
<line x1="1381.2" y1="1262.4" x2="1381.2" y2="1241.4" stroke="#000" stroke-width="2.0"/>
<line x1="1456.1" y1="1123.7" x2="1456.1" y2="1144.7" stroke="#000" stroke-width="2.0"/>
<line x1="1456.1" y1="1262.4" x2="1456.1" y2="1241.4" stroke="#000" stroke-width="2.0"/>
<line x1="1531.1" y1="1123.7" x2="1531.1" y2="1144.7" stroke="#000" stroke-width="2.0"/>
<line x1="1531.1" y1="1262.4" x2="1531.1" y2="1241.4" stroke="#000" stroke-width="2.0"/>
<line x1="1321.2" y1="1262.4" x2="1342.2" y2="1262.4" stroke="#000" stroke-width="2.0"/>
<line x1="1568.5" y1="1262.4" x2="1547.5" y2="1262.4" stroke="#000" stroke-width="2.0"/>
<line x1="1321.2" y1="1222.8" x2="1342.2" y2="1222.8" stroke="#000" stroke-width="2.0"/>
<line x1="1568.5" y1="1222.8" x2="1547.5" y2="1222.8" stroke="#000" stroke-width="2.0"/>
<line x1="1321.2" y1="1183.1" x2="1342.2" y2="1183.1" stroke="#000" stroke-width="2.0"/>
<line x1="1568.5" y1="1183.1" x2="1547.5" y2="1183.1" stroke="#000" stroke-width="2.0"/>
<line x1="1321.2" y1="1143.5" x2="1342.2" y2="1143.5" stroke="#000" stroke-width="2.0"/>
<line x1="1568.5" y1="1143.5" x2="1547.5" y2="1143.5" stroke="#000" stroke-width="2.0"/>
<text x="1299.2" y="1277.2" font-size="43" text-anchor="end">0</text>
<text x="1299.2" y="1237.6" font-size="43" text-anchor="end">1</text>
<text x="1299.2" y="1197.9" font-size="43" text-anchor="end">2</text>
<text x="1299.2" y="1158.3" font-size="43" text-anchor="end">3</text>
<text x="1381.2" y="1322.4" font-size="43" text-anchor="middle">2.4</text>
<text x="1456.1" y="1322.4" font-size="43" text-anchor="middle">2.5</text>
<text x="1531.1" y="1322.4" font-size="43" text-anchor="middle">2.6</text>
<rect x="1321.2" y="1422" width="247.3" height="119.9" fill="#fff"/>
<line x1="1321.2" y1="1438" x2="1568.5" y2="1438" stroke="#000" stroke-width="1.4"/>
<g clip-path="url(#c12)" fill="none" stroke-linejoin="round">
<path d="M1321.2 1487.4C1326.6 1484.1 1331.4 1480.9 1337.4 1477.4C1344.8 1473.1 1354.1 1466.8 1362.4 1463.7C1369.9 1460.9 1378.2 1458.6 1384.9 1458.7C1390.4 1458.8 1395.2 1459.8 1399.9 1462.4C1405.4 1465.5 1410 1472.1 1414.9 1477.4C1420 1482.9 1424.7 1489.7 1429.9 1494.9C1434.7 1499.6 1439.3 1504.7 1444.8 1507.4C1450.1 1510 1456.5 1511.2 1462.3 1511.2C1468.1 1511.2 1473.8 1509.2 1479.8 1507.4C1486.3 1505.5 1492.8 1502.9 1499.8 1499.9C1507.8 1496.4 1516.4 1491 1524.8 1487.4C1533 1483.9 1542 1481.1 1549.8 1478.7C1556.4 1476.6 1562.3 1475.2 1568.5 1473.5" stroke="#3333ff" stroke-width="8.7"/>
<path d="M1321.2 1506.5C1326.6 1503.5 1331.3 1500.3 1337.4 1497.4C1344.7 1493.9 1353.5 1489.7 1362.4 1487.4C1371.8 1485 1383.4 1483.4 1392.4 1483.7C1399.8 1483.9 1405.5 1485.4 1412.4 1487.4C1420.4 1489.7 1428.9 1495.1 1437.4 1497.4C1445.6 1499.6 1454 1501.2 1462.3 1501.2C1470.6 1501.2 1479.1 1499.6 1487.3 1497.4C1495.8 1495.1 1503.9 1490.5 1512.3 1487.4C1520.6 1484.3 1528.5 1481.5 1537.3 1478.7C1547.1 1475.6 1558.1 1472.6 1568.5 1469.5" stroke="#000" stroke-width="5.4" stroke-dasharray="12.3 12.1"/>
<path d="M1328 1543.5C1329.5 1542.7 1330.3 1542.3 1332.4 1541.2C1337.9 1538.5 1351.8 1532.1 1362.4 1527.4C1374.2 1522.1 1387.4 1516.6 1399.9 1511.2C1412.4 1505.8 1424.8 1499.7 1437.4 1494.9C1449.8 1490.2 1461.4 1486.6 1474.8 1482.4C1490.2 1477.5 1508.7 1471.9 1524.8 1467.4C1539.8 1463.2 1553.9 1459.8 1568.5 1456" stroke="#e600e6" stroke-width="3.8"/>
</g>
<rect x="1321.2" y="1422" width="247.3" height="119.9" fill="none" stroke="#000" stroke-width="2.4"/>
<line x1="1362.4" y1="1422" x2="1362.4" y2="1443" stroke="#000" stroke-width="2.0"/>
<line x1="1362.4" y1="1541.9" x2="1362.4" y2="1520.9" stroke="#000" stroke-width="2.0"/>
<line x1="1444.9" y1="1422" x2="1444.9" y2="1443" stroke="#000" stroke-width="2.0"/>
<line x1="1444.9" y1="1541.9" x2="1444.9" y2="1520.9" stroke="#000" stroke-width="2.0"/>
<line x1="1527.3" y1="1422" x2="1527.3" y2="1443" stroke="#000" stroke-width="2.0"/>
<line x1="1527.3" y1="1541.9" x2="1527.3" y2="1520.9" stroke="#000" stroke-width="2.0"/>
<line x1="1321.2" y1="1438" x2="1342.2" y2="1438" stroke="#000" stroke-width="2.0"/>
<line x1="1568.5" y1="1438" x2="1547.5" y2="1438" stroke="#000" stroke-width="2.0"/>
<line x1="1321.2" y1="1472" x2="1342.2" y2="1472" stroke="#000" stroke-width="2.0"/>
<line x1="1568.5" y1="1472" x2="1547.5" y2="1472" stroke="#000" stroke-width="2.0"/>
<line x1="1321.2" y1="1506" x2="1342.2" y2="1506" stroke="#000" stroke-width="2.0"/>
<line x1="1568.5" y1="1506" x2="1547.5" y2="1506" stroke="#000" stroke-width="2.0"/>
<line x1="1321.2" y1="1539.9" x2="1342.2" y2="1539.9" stroke="#000" stroke-width="2.0"/>
<line x1="1568.5" y1="1539.9" x2="1547.5" y2="1539.9" stroke="#000" stroke-width="2.0"/>
<text x="1298.8" y="1452.8" font-size="43" text-anchor="end">0</text>
<text x="1298.8" y="1486.8" font-size="43" text-anchor="end">-1</text>
<text x="1298.8" y="1520.8" font-size="43" text-anchor="end">-2</text>
<text x="1298.8" y="1554.7" font-size="43" text-anchor="end">-3</text>
<text x="1362.4" y="1602.4" font-size="43" text-anchor="middle">2.4</text>
<text x="1444.9" y="1602.4" font-size="43" text-anchor="middle">2.5</text>
<text x="1527.3" y="1602.4" font-size="43" text-anchor="middle">2.6</text>
<line x1="308.9" y1="131.8" x2="421.5" y2="131.8" stroke="#000" stroke-width="5.4" stroke-dasharray="12.3 12.1"/>
<line x1="308.9" y1="179.1" x2="421.5" y2="179.1" stroke="#3333ff" stroke-width="8.7"/>
<line x1="308.9" y1="226.5" x2="421.5" y2="226.5" stroke="#e600e6" stroke-width="3.8"/>
<line x1="313.2" y1="1058" x2="426.5" y2="1058" stroke="#000" stroke-width="5.4" stroke-dasharray="12.3 12.1"/>
<line x1="313.2" y1="1105.6" x2="426.5" y2="1105.6" stroke="#3333ff" stroke-width="8.7"/>
<line x1="313.2" y1="1152.4" x2="426.5" y2="1152.4" stroke="#e600e6" stroke-width="3.8"/>
<text x="287.2" y="146.7" font-size="46.6" text-anchor="end" textLength="115.6" lengthAdjust="spacingAndGlyphs">M=60</text>
<text x="287.2" y="194.1" font-size="42.7" text-anchor="end" textLength="65.8" lengthAdjust="spacingAndGlyphs">120</text>
<text x="285.2" y="241.2" font-size="45.3" text-anchor="end" textLength="42.7" lengthAdjust="spacingAndGlyphs">W</text>
<text x="291.4" y="1073" font-size="46.6" text-anchor="end" textLength="115.6" lengthAdjust="spacingAndGlyphs">M=60</text>
<text x="291.4" y="1120.8" font-size="44.2" text-anchor="end" textLength="66" lengthAdjust="spacingAndGlyphs">120</text>
<text x="289.8" y="1169" font-size="45.9" text-anchor="end" textLength="42.7" lengthAdjust="spacingAndGlyphs">W</text>
<text x="757.4" y="283.4" font-size="43.4" text-anchor="end" textLength="156.4" lengthAdjust="spacingAndGlyphs"><tspan font-style="italic">f</tspan>=0.045</text>
<text x="761.8" y="1172.1" font-size="42.1" text-anchor="end" textLength="155.8" lengthAdjust="spacingAndGlyphs"><tspan font-style="italic">f</tspan>=0.045</text>
<text x="978.2" y="143.8" font-size="42.8" text-anchor="start" textLength="134.3" lengthAdjust="spacingAndGlyphs"><tspan font-style="italic">f</tspan>=0.23</text>
<text x="983.7" y="1068.9" font-size="41.2" text-anchor="start" textLength="134.1" lengthAdjust="spacingAndGlyphs"><tspan font-style="italic">f</tspan>=0.23</text>
<text transform="translate(52.5 273.2) rotate(-90)" font-size="64" text-anchor="middle" textLength="210.1" lengthAdjust="spacingAndGlyphs">Im<tspan font-size="69" dy="5">{</tspan><tspan font-style="italic" font-size="59" dy="-5">&#x3f5;</tspan><tspan font-style="italic" font-size="44" dy="-23.5">M</tspan><tspan font-size="69" dy="28.5">}</tspan></text>
<text transform="translate(52.5 654.4) rotate(-90)" font-size="64" text-anchor="middle" textLength="207.1" lengthAdjust="spacingAndGlyphs">Re<tspan font-size="69" dy="5">{</tspan><tspan font-style="italic" font-size="59" dy="-5">&#x3f5;</tspan><tspan font-style="italic" font-size="44" dy="-23.5">M</tspan><tspan font-size="69" dy="28.5">}</tspan></text>
<text transform="translate(56.3 1198.8) rotate(-90)" font-size="64" text-anchor="middle" textLength="211.2" lengthAdjust="spacingAndGlyphs">Im<tspan font-size="69" dy="5">{</tspan><tspan font-style="italic" font-size="59" dy="-5">&#x3f5;</tspan><tspan font-style="italic" font-size="44" dy="-23.5">M</tspan><tspan font-size="69" dy="28.5">}</tspan></text>
<text transform="translate(56.3 1574.3) rotate(-90)" font-size="64" text-anchor="middle" textLength="208.3" lengthAdjust="spacingAndGlyphs">Re<tspan font-size="69" dy="5">{</tspan><tspan font-style="italic" font-size="59" dy="-5">&#x3f5;</tspan><tspan font-style="italic" font-size="44" dy="-23.5">M</tspan><tspan font-size="69" dy="28.5">}</tspan></text>
<text x="482.4" y="1883.2" font-size="67.9" text-anchor="middle" textLength="212.1" lengthAdjust="spacingAndGlyphs"><tspan font-style="italic">&#x127;&#x3c9;</tspan> (eV)</text>
<text x="1270.1" y="1883.2" font-size="67.9" text-anchor="middle" textLength="211.3" lengthAdjust="spacingAndGlyphs"><tspan font-style="italic">&#x127;&#x3c9;</tspan> (eV)</text>
<text x="-2.2" y="54" font-size="72">a<tspan font-size="80">)</tspan></text>
<text x="-2.5" y="981.2" font-size="75">b<tspan font-size="78">)</tspan></text>
</svg>
</body></html>
